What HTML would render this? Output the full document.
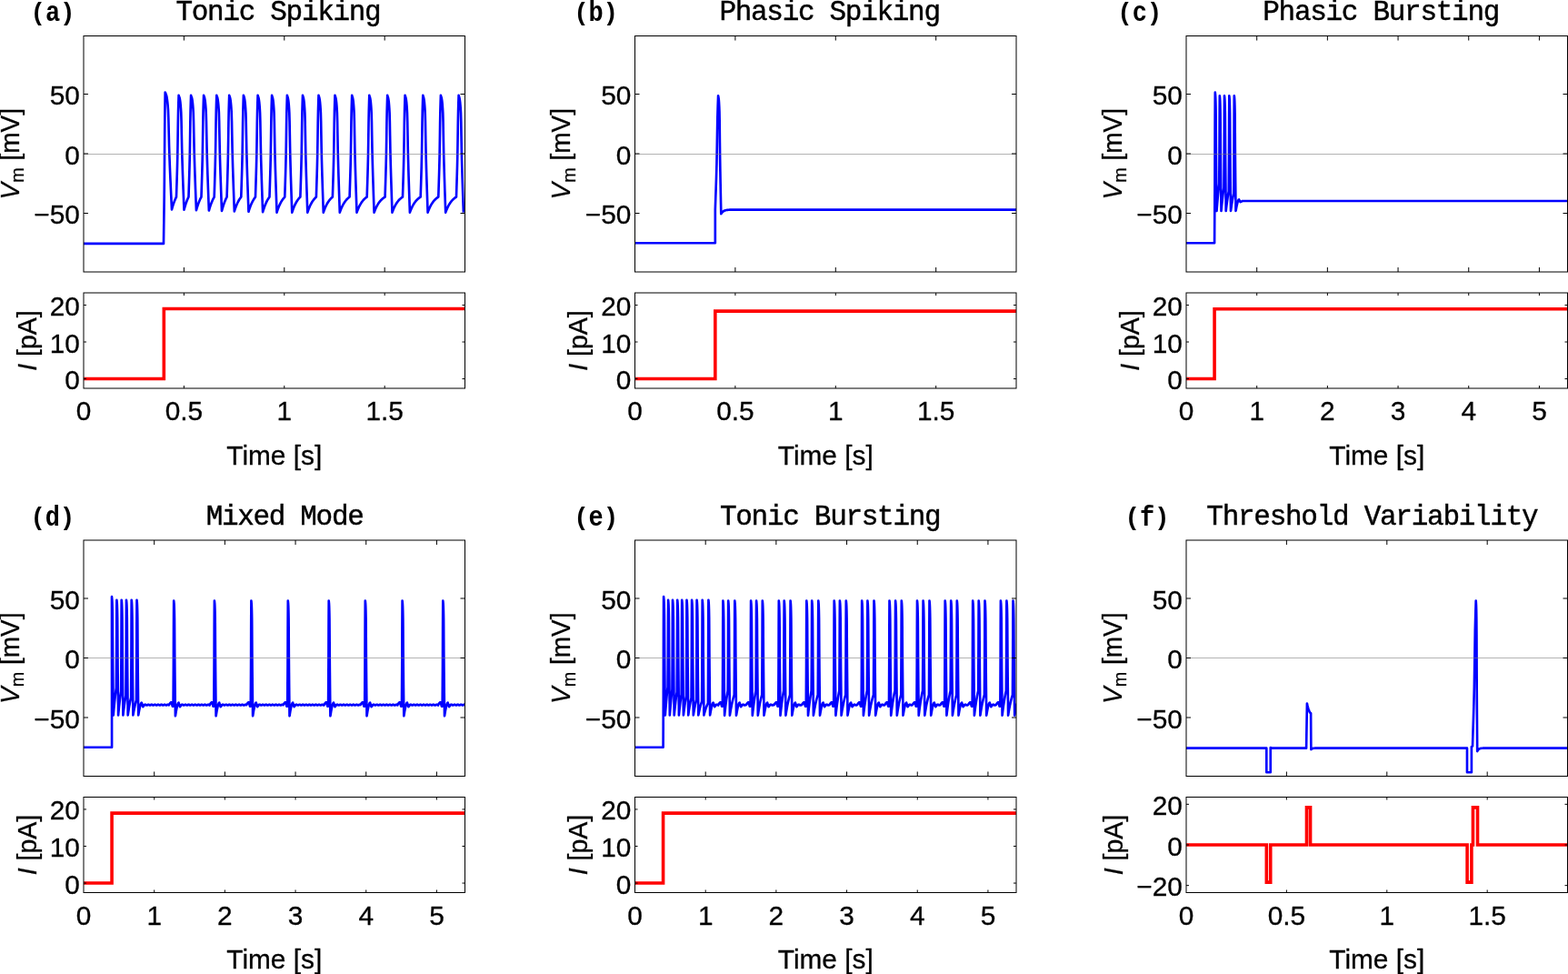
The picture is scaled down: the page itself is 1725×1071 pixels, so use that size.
<!DOCTYPE html>
<html><head><meta charset="utf-8"><title>Neuron firing patterns</title><style>html,body{margin:0;padding:0;background:#fff;overflow:hidden}svg{display:block}</style></head><body>
<svg width="1725" height="1071" viewBox="0 0 1725 1071"><rect width="1725" height="1071" fill="#fff"/><defs><clipPath id="cva"><rect x="92" y="39.5" width="419.5" height="259.5"/></clipPath><clipPath id="cia"><rect x="92" y="322" width="419.5" height="105"/></clipPath><clipPath id="cvb"><rect x="698.5" y="39.5" width="419.5" height="259.5"/></clipPath><clipPath id="cib"><rect x="698.5" y="322" width="419.5" height="105"/></clipPath><clipPath id="cvc"><rect x="1305" y="39.5" width="419.5" height="259.5"/></clipPath><clipPath id="cic"><rect x="1305" y="322" width="419.5" height="105"/></clipPath><clipPath id="cvd"><rect x="92" y="594" width="419.5" height="259.5"/></clipPath><clipPath id="cid"><rect x="92" y="876.5" width="419.5" height="105"/></clipPath><clipPath id="cve"><rect x="698.5" y="594" width="419.5" height="259.5"/></clipPath><clipPath id="cie"><rect x="698.5" y="876.5" width="419.5" height="105"/></clipPath><clipPath id="cvf"><rect x="1305" y="594" width="419.5" height="259.5"/></clipPath><clipPath id="cif"><rect x="1305" y="876.5" width="419.5" height="105"/></clipPath></defs>
<polyline clip-path="url(#cva)" fill="none" stroke="#0000ff" stroke-width="2.65" stroke-linejoin="round" stroke-linecap="butt" points="92,267.9 179.98,267.9 180.16,255 180.33,242.84 180.5,230.3 180.67,216.29 180.84,199.69 181.01,175.29 181.19,146.95 181.36,126.66 181.53,113.57 181.7,101.53 182.06,102.41 182.43,103.23 182.79,104.16 183.16,105.4 183.52,107.09 183.89,109.37 184.25,112.35 184.61,116.13 184.98,120.85 185.34,130.61 185.71,145.83 186.07,161.05 186.44,172.19 186.8,181.83 187.16,190.71 187.53,199.08 187.89,207.22 188.26,215.24 188.62,222.81 188.99,230.31 189.4,228.79 189.82,227.36 190.24,225.99 190.66,224.7 191.07,223.48 191.49,222.33 191.91,221.23 192.33,220.19 192.74,219.21 193.16,218.27 193.58,217.39 193.99,216.55 194.26,207.89 194.52,199.72 194.78,191.3 195.04,181.89 195.3,170.74 195.56,154.35 195.82,135.31 196.08,121.69 196.34,112.89 196.6,104.81 196.89,105.67 197.19,106.46 197.48,107.38 197.78,108.59 198.07,110.25 198.37,112.47 198.66,115.38 198.96,119.09 199.25,123.7 199.55,133.24 199.84,148.12 200.14,163 200.43,173.89 200.73,183.32 201.02,192 201.32,200.19 201.61,208.15 201.91,215.98 202.2,223.38 202.5,230.72 202.91,229.16 203.33,227.68 203.74,226.28 204.16,224.95 204.58,223.69 204.99,222.5 205.41,221.37 205.83,220.3 206.24,219.29 206.66,218.33 207.08,217.42 207.49,216.55 207.76,207.89 208.02,199.72 208.28,191.3 208.54,181.89 208.8,170.74 209.06,154.35 209.32,135.31 209.58,121.69 209.84,112.89 210.1,104.81 210.39,105.67 210.68,106.47 210.97,107.39 211.27,108.6 211.56,110.26 211.85,112.5 212.14,115.42 212.43,119.13 212.72,123.76 213.01,133.33 213.31,148.26 213.6,163.19 213.89,174.12 214.18,183.58 214.47,192.28 214.76,200.5 215.05,208.48 215.35,216.35 215.64,223.77 215.93,231.13 216.36,229.6 216.79,228.15 217.21,226.78 217.64,225.48 218.07,224.26 218.5,223.1 218.93,222 219.35,220.96 219.78,219.98 220.21,219.05 220.64,218.17 221.07,217.34 221.49,216.55 221.76,207.89 222.02,199.72 222.28,191.3 222.54,181.89 222.8,170.74 223.06,154.35 223.32,135.31 223.58,121.69 223.84,112.89 224.1,104.81 224.39,105.67 224.68,106.48 224.96,107.4 225.25,108.61 225.54,110.28 225.83,112.52 226.12,115.45 226.41,119.18 226.69,123.82 226.98,133.43 227.27,148.4 227.56,163.38 227.85,174.34 228.13,183.83 228.42,192.57 228.71,200.81 229,208.82 229.29,216.71 229.57,224.15 229.86,231.54 230.28,230.05 230.7,228.65 231.11,227.31 231.53,226.05 231.95,224.85 232.36,223.72 232.78,222.65 233.2,221.63 233.61,220.67 234.03,219.75 234.44,218.89 234.86,218.07 235.28,217.29 235.69,216.55 235.96,207.89 236.22,199.72 236.48,191.3 236.74,181.89 237,170.74 237.26,154.35 237.52,135.31 237.78,121.69 238.04,112.89 238.3,104.81 238.58,105.68 238.87,106.48 239.15,107.41 239.44,108.62 239.72,110.3 240.01,112.55 240.29,115.48 240.58,119.22 240.86,123.88 241.15,133.52 241.43,148.54 241.72,163.57 242,174.57 242.29,184.09 242.57,192.85 242.86,201.12 243.14,209.16 243.43,217.07 243.71,224.54 244,231.95 244.43,230.33 244.86,228.8 245.29,227.35 245.72,225.98 246.15,224.68 246.58,223.46 247.01,222.3 247.44,221.2 247.87,220.17 248.3,219.19 248.73,218.26 249.16,217.38 249.59,216.55 249.86,207.89 250.12,199.72 250.38,191.3 250.64,181.89 250.9,170.74 251.16,154.35 251.42,135.31 251.68,121.69 251.94,112.89 252.2,104.81 252.48,105.68 252.76,106.49 253.04,107.41 253.33,108.64 253.61,110.32 253.89,112.57 254.17,115.52 254.45,119.27 254.73,123.94 255.02,133.61 255.3,148.68 255.58,163.76 255.86,174.79 256.14,184.34 256.42,193.13 256.7,201.43 256.99,209.49 257.27,217.43 257.55,224.92 257.83,232.35 258.27,230.95 258.71,229.61 259.15,228.36 259.59,227.17 260.03,226.05 260.46,224.98 260.9,223.98 261.34,223.04 261.78,222.14 262.22,221.3 262.66,220.5 263.1,219.74 263.54,219.03 263.98,218.36 264.42,217.72 264.86,217.12 265.29,216.55 265.56,207.89 265.82,199.72 266.08,191.3 266.34,181.89 266.6,170.74 266.86,154.35 267.12,135.31 267.38,121.69 267.64,112.89 267.9,104.81 268.18,105.68 268.46,106.49 268.73,107.42 269.01,108.65 269.29,110.33 269.57,112.6 269.85,115.55 270.13,119.32 270.4,124 270.68,133.7 270.96,148.82 271.24,163.95 271.52,175.02 271.79,184.6 272.07,193.42 272.35,201.74 272.63,209.83 272.91,217.79 273.19,225.31 273.46,232.76 273.88,231.39 274.3,230.09 274.72,228.86 275.14,227.69 275.56,226.59 275.97,225.54 276.39,224.55 276.81,223.61 277.23,222.72 277.65,221.88 278.07,221.08 278.48,220.32 278.9,219.61 279.32,218.93 279.74,218.29 280.16,217.68 280.58,217.1 280.99,216.55 281.26,207.89 281.52,199.72 281.78,191.3 282.04,181.89 282.3,170.74 282.56,154.35 282.82,135.31 283.08,121.69 283.34,112.89 283.6,104.81 283.87,105.68 284.15,106.5 284.42,107.43 284.7,108.66 284.97,110.35 285.25,112.62 285.52,115.59 285.8,119.36 286.07,124.06 286.35,133.8 286.62,148.97 286.9,164.14 287.17,175.24 287.45,184.85 287.72,193.7 288,202.05 288.27,210.16 288.55,218.15 288.82,225.69 289.1,233.17 289.53,231.7 289.97,230.3 290.4,228.98 290.84,227.73 291.27,226.55 291.71,225.44 292.14,224.39 292.58,223.39 293.01,222.45 293.45,221.56 293.88,220.72 294.32,219.92 294.75,219.17 295.19,218.46 295.62,217.79 296.06,217.15 296.49,216.55 296.76,207.89 297.02,199.72 297.28,191.3 297.54,181.89 297.8,170.74 298.06,154.35 298.32,135.31 298.58,121.69 298.84,112.89 299.1,104.81 299.37,105.69 299.64,106.5 299.91,107.44 300.19,108.67 300.46,110.37 300.73,112.65 301,115.62 301.27,119.41 301.54,124.13 301.82,133.89 302.09,149.11 302.36,164.33 302.63,175.47 302.9,185.11 303.17,193.98 303.45,202.36 303.72,210.5 303.99,218.51 304.26,226.08 304.53,233.58 304.97,232.2 305.41,230.89 305.85,229.66 306.28,228.49 306.72,227.38 307.16,226.34 307.6,225.36 308.04,224.43 308.47,223.55 308.91,222.72 309.35,221.93 309.79,221.19 310.23,220.49 310.67,219.83 311.1,219.2 311.54,218.61 311.98,218.05 312.42,217.52 312.86,217.02 313.29,216.55 313.56,207.89 313.82,199.72 314.08,191.3 314.34,181.89 314.6,170.74 314.86,154.35 315.12,135.31 315.38,121.69 315.64,112.89 315.9,104.81 316.17,105.69 316.44,106.5 316.7,107.44 316.97,108.67 317.24,110.37 317.51,112.65 317.78,115.62 318.05,119.41 318.31,124.13 318.58,133.89 318.85,149.11 319.12,164.33 319.39,175.47 319.66,185.11 319.92,193.98 320.19,202.36 320.46,210.5 320.73,218.51 321,226.08 321.27,233.58 321.7,232.24 322.13,230.97 322.57,229.77 323,228.63 323.44,227.56 323.87,226.54 324.31,225.59 324.74,224.68 325.18,223.82 325.61,223.01 326.05,222.25 326.48,221.52 326.92,220.84 327.35,220.19 327.79,219.58 328.22,219 328.66,218.46 329.09,217.94 329.53,217.45 329.96,216.99 330.39,216.55 330.66,207.89 330.92,199.72 331.18,191.3 331.44,181.89 331.7,170.74 331.96,154.35 332.22,135.31 332.48,121.69 332.74,112.89 333,104.81 333.26,105.69 333.53,106.5 333.79,107.44 334.06,108.67 334.32,110.37 334.59,112.65 334.85,115.62 335.12,119.41 335.38,124.13 335.65,133.89 335.91,149.11 336.18,164.33 336.44,175.47 336.71,185.11 336.97,193.98 337.24,202.36 337.5,210.5 337.77,218.51 338.03,226.08 338.3,233.58 338.74,232.27 339.17,231.03 339.61,229.85 340.04,228.74 340.48,227.69 340.92,226.7 341.35,225.77 341.79,224.88 342.22,224.04 342.66,223.25 343.1,222.51 343.53,221.8 343.97,221.13 344.41,220.5 344.84,219.91 345.28,219.34 345.71,218.81 346.15,218.31 346.59,217.83 347.02,217.38 347.46,216.95 347.89,216.55 348.16,207.89 348.42,199.72 348.68,191.3 348.94,181.89 349.2,170.74 349.46,154.35 349.72,135.31 349.98,121.69 350.24,112.89 350.5,104.81 350.76,105.69 351.03,106.5 351.29,107.44 351.56,108.67 351.82,110.37 352.09,112.65 352.35,115.62 352.62,119.41 352.88,124.13 353.15,133.89 353.41,149.11 353.68,164.33 353.94,175.47 354.21,185.11 354.47,193.98 354.74,202.36 355,210.5 355.27,218.51 355.53,226.08 355.8,233.58 356.24,232.29 356.68,231.08 357.12,229.92 357.55,228.84 357.99,227.81 358.43,226.84 358.87,225.92 359.31,225.05 359.75,224.24 360.19,223.46 360.63,222.73 361.07,222.04 361.51,221.39 361.94,220.77 362.38,220.19 362.82,219.64 363.26,219.12 363.7,218.63 364.14,218.17 364.58,217.73 365.02,217.31 365.46,216.92 365.89,216.55 366.16,207.89 366.42,199.72 366.68,191.3 366.94,181.89 367.2,170.74 367.46,154.35 367.72,135.31 367.98,121.69 368.24,112.89 368.5,104.81 368.76,105.69 369.03,106.5 369.29,107.44 369.56,108.67 369.82,110.37 370.09,112.65 370.35,115.62 370.62,119.41 370.88,124.13 371.15,133.89 371.41,149.11 371.68,164.33 371.94,175.47 372.21,185.11 372.47,193.98 372.74,202.36 373,210.5 373.27,218.51 373.53,226.08 373.8,233.58 374.23,232.35 374.66,231.19 375.09,230.09 375.53,229.05 375.96,228.07 376.39,227.14 376.82,226.26 377.25,225.43 377.69,224.64 378.12,223.9 378.55,223.19 378.98,222.53 379.41,221.9 379.84,221.3 380.28,220.74 380.71,220.21 381.14,219.71 381.57,219.23 382,218.78 382.44,218.36 382.87,217.95 383.3,217.57 383.73,217.21 384.16,216.87 384.59,216.55 384.86,207.89 385.12,199.72 385.38,191.3 385.64,181.89 385.9,170.74 386.16,154.35 386.42,135.31 386.68,121.69 386.94,112.89 387.2,104.81 387.46,105.69 387.73,106.5 387.99,107.44 388.26,108.67 388.52,110.37 388.79,112.65 389.05,115.62 389.32,119.41 389.58,124.13 389.85,133.89 390.11,149.11 390.38,164.33 390.64,175.47 390.91,185.11 391.17,193.98 391.44,202.36 391.7,210.5 391.97,218.51 392.23,226.08 392.5,233.58 392.93,232.38 393.36,231.24 393.79,230.16 394.22,229.14 394.65,228.17 395.08,227.26 395.51,226.39 395.94,225.58 396.37,224.81 396.81,224.07 397.24,223.38 397.67,222.73 398.1,222.11 398.53,221.53 398.96,220.97 399.39,220.45 399.82,219.96 400.25,219.49 400.68,219.05 401.11,218.63 401.54,218.23 401.97,217.86 402.4,217.5 402.83,217.17 403.26,216.85 403.69,216.55 403.96,207.89 404.22,199.72 404.48,191.3 404.74,181.89 405,170.74 405.26,154.35 405.52,135.31 405.78,121.69 406.04,112.89 406.3,104.81 406.56,105.69 406.83,106.5 407.09,107.44 407.36,108.67 407.62,110.37 407.89,112.65 408.15,115.62 408.42,119.41 408.68,124.13 408.95,133.89 409.21,149.11 409.48,164.33 409.74,175.47 410.01,185.11 410.27,193.98 410.54,202.36 410.8,210.5 411.07,218.51 411.33,226.08 411.6,233.58 412.03,232.42 412.46,231.32 412.88,230.27 413.31,229.29 413.74,228.35 414.17,227.47 414.6,226.63 415.03,225.84 415.45,225.1 415.88,224.39 416.31,223.72 416.74,223.09 417.17,222.49 417.6,221.92 418.03,221.38 418.45,220.88 418.88,220.4 419.31,219.94 419.74,219.51 420.17,219.11 420.6,218.72 421.02,218.36 421.45,218.01 421.88,217.69 422.31,217.38 422.74,217.09 423.17,216.81 423.59,216.55 423.86,207.89 424.12,199.72 424.38,191.3 424.64,181.89 424.9,170.74 425.16,154.35 425.42,135.31 425.68,121.69 425.94,112.89 426.2,104.81 426.46,105.69 426.73,106.5 426.99,107.44 427.26,108.67 427.52,110.37 427.79,112.65 428.05,115.62 428.32,119.41 428.58,124.13 428.85,133.89 429.11,149.11 429.38,164.33 429.64,175.47 429.91,185.11 430.17,193.98 430.44,202.36 430.7,210.5 430.97,218.51 431.23,226.08 431.5,233.58 431.92,232.4 432.35,231.29 432.78,230.23 433.2,229.23 433.63,228.29 434.05,227.39 434.48,226.54 434.91,225.74 435.33,224.98 435.76,224.26 436.18,223.58 436.61,222.94 437.03,222.33 437.46,221.76 437.89,221.21 438.31,220.69 438.74,220.21 439.16,219.74 439.59,219.31 440.01,218.89 440.44,218.5 440.87,218.13 441.29,217.78 441.72,217.45 442.14,217.13 442.57,216.83 442.99,216.55 443.26,207.89 443.52,199.72 443.78,191.3 444.04,181.89 444.3,170.74 444.56,154.35 444.82,135.31 445.08,121.69 445.34,112.89 445.6,104.81 445.86,105.69 446.13,106.5 446.39,107.44 446.66,108.67 446.92,110.37 447.19,112.65 447.45,115.62 447.72,119.41 447.98,124.13 448.25,133.89 448.51,149.11 448.78,164.33 449.04,175.47 449.31,185.11 449.57,193.98 449.84,202.36 450.1,210.5 450.37,218.51 450.63,226.08 450.9,233.58 451.34,232.39 451.77,231.26 452.21,230.19 452.65,229.18 453.08,228.23 453.52,227.32 453.96,226.47 454.39,225.67 454.83,224.91 455.27,224.19 455.7,223.51 456.14,222.87 456.58,222.26 457.02,221.68 457.45,221.14 457.89,220.63 458.33,220.15 458.76,219.69 459.2,219.26 459.64,218.85 460.07,218.46 460.51,218.1 460.95,217.75 461.38,217.43 461.82,217.12 462.26,216.83 462.69,216.55 462.96,207.89 463.22,199.72 463.48,191.3 463.74,181.89 464,170.74 464.26,154.35 464.52,135.31 464.78,121.69 465.04,112.89 465.3,104.81 465.56,105.69 465.83,106.5 466.09,107.44 466.36,108.67 466.62,110.37 466.89,112.65 467.15,115.62 467.42,119.41 467.68,124.13 467.95,133.89 468.21,149.11 468.48,164.33 468.74,175.47 469.01,185.11 469.27,193.98 469.54,202.36 469.8,210.5 470.07,218.51 470.33,226.08 470.6,233.58 471.03,232.39 471.47,231.27 471.9,230.2 472.33,229.2 472.76,228.25 473.2,227.35 473.63,226.5 474.06,225.69 474.5,224.93 474.93,224.21 475.36,223.53 475.8,222.89 476.23,222.28 476.66,221.71 477.1,221.17 477.53,220.65 477.96,220.17 478.4,219.71 478.83,219.27 479.26,218.86 479.7,218.47 480.13,218.11 480.56,217.76 481,217.43 481.43,217.12 481.86,216.83 482.29,216.55 482.56,207.89 482.82,199.72 483.08,191.3 483.34,181.89 483.6,170.74 483.86,154.35 484.12,135.31 484.38,121.69 484.64,112.89 484.9,104.81 485.16,105.69 485.43,106.5 485.69,107.44 485.96,108.67 486.22,110.37 486.49,112.65 486.75,115.62 487.02,119.41 487.28,124.13 487.55,133.89 487.81,149.11 488.08,164.33 488.34,175.47 488.61,185.11 488.87,193.98 489.14,202.36 489.4,210.5 489.67,218.51 489.93,226.08 490.2,233.58 490.64,232.39 491.07,231.26 491.51,230.19 491.95,229.18 492.38,228.23 492.82,227.32 493.26,226.47 493.69,225.67 494.13,224.91 494.57,224.19 495,223.51 495.44,222.87 495.88,222.26 496.32,221.68 496.75,221.14 497.19,220.63 497.63,220.15 498.06,219.69 498.5,219.26 498.94,218.85 499.37,218.46 499.81,218.1 500.25,217.75 500.68,217.43 501.12,217.12 501.56,216.83 501.99,216.55 502.26,207.89 502.52,199.72 502.78,191.3 503.04,181.89 503.3,170.74 503.56,154.35 503.82,135.31 504.08,121.69 504.34,112.89 504.6,104.81 504.86,105.69 505.13,106.5 505.39,107.44 505.66,108.67 505.92,110.37 506.19,112.65 506.45,115.62 506.72,119.41 506.98,124.13 507.25,133.89 507.51,149.11 507.78,164.33 508.04,175.47 508.31,185.11 508.57,193.98 508.84,202.36 509.1,210.5 509.37,218.51 509.63,226.08 509.9,233.58"/>
<polyline clip-path="url(#cvb)" fill="none" stroke="#0000ff" stroke-width="2.65" stroke-linejoin="round" stroke-linecap="butt" points="698.5,267.25 786.82,267.25 786.82,230.57 787.23,218.55 787.64,207.07 788.05,194.5 788.46,179.22 788.87,155.43 789.28,130.69 789.69,116.65 790.1,105.33 790.33,106.57 790.56,107.83 790.79,109.66 791.01,112.51 791.24,116.73 791.47,122.65 791.7,134.65 791.93,156.89 792.16,175.1 792.39,188.91 792.62,201.3 792.84,213.05 793.07,224.36 793.3,235.15 793.3,235.16 793.74,234.45 794.18,233.85 794.63,233.34 795.07,232.91 795.51,232.55 795.95,232.24 796.39,231.98 796.83,231.76 797.28,231.57 797.72,231.41 798.16,231.28 798.6,231.16 799.04,231.07 799.48,230.99 799.93,230.92 800.37,230.86 800.81,230.81 801.25,230.77 801.69,230.73 802.13,230.7 802.57,230.68 803.02,230.66 803.46,230.64 803.9,230.62 804.34,230.61 804.78,230.6 805.22,230.59 805.67,230.58 806.11,230.58 806.55,230.57 1129.04,230.57"/>
<polyline clip-path="url(#cvc)" fill="none" stroke="#0000ff" stroke-width="2.65" stroke-linejoin="round" stroke-linecap="butt" points="1305,267.25 1336.07,267.25 1336.15,254.41 1336.22,242.3 1336.29,229.83 1336.36,215.88 1336.44,199.36 1336.51,175.07 1336.58,146.86 1336.65,126.68 1336.73,113.64 1336.8,101.67 1336.89,102.55 1336.97,103.38 1337.06,104.32 1337.14,105.57 1337.23,107.29 1337.31,109.59 1337.4,112.6 1337.48,116.43 1337.57,121.2 1337.65,131.07 1337.74,146.46 1337.83,161.85 1337.91,173.11 1338,182.86 1338.08,191.84 1338.17,200.31 1338.25,208.54 1338.34,216.64 1338.42,224.29 1338.51,231.88 1338.66,229.88 1338.81,227.93 1338.97,226.02 1339.12,224.16 1339.27,222.35 1339.42,220.58 1339.58,218.85 1339.73,217.16 1339.88,215.52 1340.04,213.92 1340.19,212.35 1340.34,210.82 1340.49,209.33 1340.65,207.88 1340.8,206.46 1340.95,205.07 1341.1,203.72 1341.26,202.41 1341.31,194.88 1341.36,187.78 1341.42,180.47 1341.47,172.29 1341.53,162.61 1341.58,148.37 1341.64,131.83 1341.69,120 1341.75,112.35 1341.8,105.33 1341.89,106.2 1341.97,107 1342.06,107.92 1342.14,109.13 1342.23,110.8 1342.31,113.04 1342.4,115.96 1342.48,119.68 1342.57,124.32 1342.65,133.91 1342.74,148.86 1342.83,163.82 1342.91,174.77 1343,184.25 1343.08,192.97 1343.17,201.19 1343.25,209.2 1343.34,217.07 1343.42,224.51 1343.51,231.88 1343.66,230.21 1343.82,228.59 1343.97,227 1344.13,225.45 1344.28,223.94 1344.44,222.47 1344.59,221.04 1344.75,219.64 1344.91,218.27 1345.06,216.94 1345.22,215.64 1345.37,214.37 1345.53,213.14 1345.68,211.93 1345.84,210.76 1345.99,209.61 1346.15,208.49 1346.3,207.4 1346.46,206.34 1346.51,198.5 1346.56,191.12 1346.62,183.51 1346.67,175 1346.73,164.92 1346.78,150.11 1346.84,132.9 1346.89,120.59 1346.95,112.64 1347,105.33 1347.09,106.2 1347.17,107 1347.26,107.92 1347.34,109.13 1347.43,110.8 1347.51,113.04 1347.6,115.96 1347.68,119.68 1347.77,124.32 1347.85,133.91 1347.94,148.86 1348.03,163.82 1348.11,174.77 1348.2,184.25 1348.28,192.97 1348.37,201.19 1348.45,209.2 1348.54,217.07 1348.62,224.51 1348.71,231.88 1348.86,230.53 1349.01,229.21 1349.17,227.93 1349.32,226.67 1349.47,225.45 1349.62,224.25 1349.78,223.09 1349.93,221.95 1350.08,220.84 1350.23,219.75 1350.38,218.7 1350.54,217.67 1350.69,216.66 1350.84,215.68 1350.99,214.72 1351.15,213.78 1351.3,212.87 1351.45,211.98 1351.6,211.11 1351.76,210.26 1351.81,202.13 1351.86,194.45 1351.92,186.55 1351.97,177.71 1352.03,167.24 1352.08,151.85 1352.14,133.98 1352.19,121.18 1352.25,112.92 1352.3,105.33 1352.39,106.2 1352.47,107 1352.56,107.92 1352.64,109.13 1352.73,110.8 1352.81,113.04 1352.9,115.96 1352.98,119.68 1353.07,124.32 1353.15,133.91 1353.24,148.86 1353.33,163.82 1353.41,174.77 1353.5,184.25 1353.58,192.97 1353.67,201.19 1353.75,209.2 1353.84,217.07 1353.92,224.51 1354.01,231.88 1354.16,230.73 1354.32,229.61 1354.47,228.52 1354.63,227.46 1354.78,226.42 1354.94,225.41 1355.09,224.42 1355.25,223.46 1355.4,222.52 1355.56,221.6 1355.71,220.7 1355.86,219.83 1356.02,218.98 1356.17,218.15 1356.33,217.34 1356.48,216.55 1356.64,215.78 1356.79,215.03 1356.95,214.3 1357.1,213.58 1357.26,212.88 1357.31,204.54 1357.36,196.68 1357.42,188.58 1357.47,179.52 1357.53,168.79 1357.58,153.01 1357.64,134.69 1357.69,121.58 1357.75,113.11 1357.8,105.33 1357.89,106.2 1357.97,107 1358.06,107.92 1358.14,109.13 1358.23,110.8 1358.31,113.04 1358.4,115.96 1358.48,119.68 1358.57,124.32 1358.65,133.91 1358.74,148.86 1358.83,163.82 1358.91,174.77 1359,184.25 1359.08,192.97 1359.17,201.19 1359.25,209.2 1359.34,217.07 1359.42,224.51 1359.51,231.88 1359.95,229.46 1360.38,227.24 1360.82,225.23 1361.26,223.45 1361.69,221.92 1362.13,220.67 1362.57,219.76 1363,219.3 1363.39,220.02 1363.78,220.75 1364.17,221.47 1364.56,222.19 1365.14,221.89 1365.72,221.6 1366.31,221.3 1366.89,221.01 1724.5,221.01"/>
<polyline clip-path="url(#cvd)" fill="none" stroke="#0000ff" stroke-width="2.65" stroke-linejoin="round" stroke-linecap="butt" points="92,821.75 123.07,821.75 123.07,808.91 123.06,796.8 123.05,784.33 123.04,770.38 123.04,753.86 123.03,729.57 123.02,701.36 123.01,681.18 123.01,668.14 123,656.17 123.09,657.05 123.17,657.88 123.26,658.82 123.34,660.07 123.43,661.79 123.51,664.09 123.6,667.1 123.68,670.93 123.77,675.7 123.85,685.57 123.94,700.96 124.03,716.35 124.11,727.61 124.2,737.36 124.28,746.34 124.37,754.81 124.45,763.04 124.54,771.14 124.62,778.79 124.71,786.38 124.86,784.59 125.01,782.84 125.16,781.13 125.31,779.47 125.46,777.84 125.61,776.25 125.76,774.7 125.91,773.19 126.06,771.71 126.21,770.27 126.36,768.87 126.51,767.49 126.66,766.15 126.81,764.84 126.96,763.56 127.11,762.32 127.26,761.1 127.41,759.91 127.56,758.75 127.71,757.62 127.86,756.51 127.91,749.01 127.96,741.94 128.02,734.66 128.07,726.52 128.13,716.87 128.18,702.69 128.24,686.22 128.29,674.44 128.35,666.83 128.4,659.83 128.49,660.7 128.57,661.5 128.66,662.42 128.74,663.63 128.83,665.3 128.91,667.54 129,670.46 129.08,674.18 129.17,678.82 129.25,688.41 129.34,703.36 129.43,718.32 129.51,729.27 129.6,738.75 129.68,747.47 129.77,755.69 129.85,763.7 129.94,771.57 130.02,779.01 130.11,786.38 130.26,784.74 130.41,783.15 130.57,781.59 130.72,780.07 130.87,778.58 131.02,777.13 131.18,775.72 131.33,774.34 131.48,773 131.63,771.68 131.78,770.4 131.94,769.15 132.09,767.93 132.24,766.74 132.39,765.58 132.55,764.45 132.7,763.34 132.85,762.26 133,761.21 133.16,760.18 133.21,752.4 133.26,745.06 133.32,737.5 133.37,729.05 133.43,719.04 133.48,704.32 133.54,687.23 133.59,674.99 133.65,667.09 133.7,659.83 133.79,660.7 133.87,661.5 133.96,662.42 134.04,663.63 134.13,665.3 134.21,667.54 134.3,670.46 134.38,674.18 134.47,678.82 134.55,688.41 134.64,703.36 134.73,718.32 134.81,729.27 134.9,738.75 134.98,747.47 135.07,755.69 135.15,763.7 135.24,771.57 135.32,779.01 135.41,786.38 135.56,785.03 135.71,783.71 135.87,782.43 136.02,781.17 136.17,779.95 136.32,778.75 136.48,777.59 136.63,776.45 136.78,775.34 136.93,774.25 137.08,773.2 137.24,772.17 137.39,771.16 137.54,770.18 137.69,769.22 137.85,768.28 138,767.37 138.15,766.48 138.3,765.61 138.46,764.76 138.51,756.63 138.56,748.95 138.62,741.05 138.67,732.21 138.73,721.74 138.78,706.35 138.84,688.48 138.89,675.68 138.95,667.42 139,659.83 139.09,660.7 139.17,661.5 139.26,662.42 139.34,663.63 139.43,665.3 139.51,667.54 139.6,670.46 139.68,674.18 139.77,678.82 139.85,688.41 139.94,703.36 140.03,718.32 140.11,729.27 140.2,738.75 140.28,747.47 140.37,755.69 140.45,763.7 140.54,771.57 140.62,779.01 140.71,786.38 140.86,785.29 141.01,784.24 141.16,783.2 141.31,782.19 141.46,781.21 141.61,780.25 141.76,779.31 141.91,778.39 142.06,777.49 142.21,776.62 142.36,775.77 142.51,774.94 142.66,774.12 142.81,773.33 142.96,772.56 143.11,771.8 143.26,771.06 143.41,770.34 143.56,769.64 143.71,768.95 143.86,768.28 144.01,767.63 144.16,766.99 144.21,758.68 144.26,750.85 144.32,742.77 144.37,733.75 144.43,723.06 144.48,707.34 144.54,689.08 144.59,676.02 144.65,667.58 144.7,659.83 144.79,660.7 144.87,661.5 144.96,662.42 145.04,663.63 145.13,665.3 145.21,667.54 145.3,670.46 145.38,674.18 145.47,678.82 145.55,688.41 145.64,703.36 145.73,718.32 145.81,729.27 145.9,738.75 145.98,747.47 146.07,755.69 146.15,763.7 146.24,771.57 146.32,779.01 146.41,786.38 146.56,785.46 146.72,784.56 146.87,783.68 147.03,782.82 147.18,781.99 147.33,781.17 147.49,780.38 147.64,779.6 147.8,778.84 147.95,778.11 148.11,777.39 148.26,776.68 148.41,776 148.57,775.33 148.72,774.68 148.88,774.04 149.03,773.42 149.19,772.82 149.34,772.23 149.49,771.65 149.65,771.09 149.8,770.54 149.96,770 150.01,761.46 150.06,753.4 150.12,745.1 150.17,735.83 150.23,724.83 150.28,708.67 150.34,689.91 150.39,676.47 150.45,667.8 150.5,659.83 150.59,660.7 150.67,661.5 150.76,662.42 150.84,663.63 150.93,665.3 151.01,667.54 151.1,670.46 151.18,674.18 151.27,678.82 151.35,688.41 151.44,703.36 151.53,718.32 151.61,729.27 151.7,738.75 151.78,747.47 151.87,755.69 151.95,763.7 152.04,771.57 152.12,779.01 152.21,786.38 152.66,783.73 153.1,781.31 153.55,779.11 154,777.16 154.44,775.49 154.89,774.12 155.34,773.12 155.78,772.62 156.15,773.77 156.52,774.92 156.89,776.06 157.26,777.21 157.65,776.69 158.04,776.16 158.42,775.64 158.81,775.11 159.12,774.9 159.43,774.74 159.74,774.7 160.04,774.77 160.35,774.94 160.66,775.16 160.97,775.37 161.28,775.5 161.58,775.53 161.89,775.43 162.2,775.25 162.51,775.02 162.82,774.83 163.12,774.71 163.43,774.71 163.74,774.83 164.05,775.02 164.36,775.25 164.66,775.43 164.97,775.53 165.28,775.5 165.59,775.37 165.9,775.16 166.2,774.94 166.51,774.77 166.82,774.7 167.13,774.74 167.44,774.9 167.74,775.11 168.05,775.33 168.36,775.48 168.67,775.53 168.98,775.46 169.28,775.29 169.59,775.07 169.9,774.86 170.21,774.73 170.52,774.7 170.82,774.79 171.13,774.98 171.44,775.2 171.75,775.4 172.06,775.52 172.36,775.52 172.67,775.4 172.98,775.21 173.29,774.98 173.6,774.8 173.9,774.7 174.21,774.72 174.52,774.86 174.83,775.07 175.14,775.29 175.44,775.46 175.75,775.53 176.06,775.49 176.37,775.33 176.68,775.12 176.99,774.9 177.29,774.74 177.6,774.7 177.91,774.77 178.22,774.94 178.53,775.16 178.83,775.37 179.14,775.5 179.45,775.53 179.76,775.44 180.07,775.25 180.37,775.03 180.68,774.83 180.99,774.71 181.3,774.71 181.61,774.82 181.91,775.02 182.22,775.25 182.53,775.43 182.84,775.53 183.15,775.5 183.45,775.37 183.76,775.16 184.07,774.94 184.38,774.77 184.69,774.7 184.99,774.74 185.3,774.9 185.61,775.11 185.92,775.33 185.92,775.11 186.46,774.22 187,773.42 187.55,772.78 188.09,772.37 188.64,772.23 189.02,773.67 189.41,775.11 189.8,776.55 190.58,776.55 190.64,767.56 190.7,759.09 190.76,750.35 190.83,740.59 190.89,729.02 190.95,712.01 191.01,692.27 191.08,678.13 191.14,669 191.2,660.62 191.29,661.48 191.37,662.29 191.46,663.21 191.54,664.42 191.63,666.09 191.71,668.33 191.8,671.26 191.88,674.98 191.97,679.62 192.05,689.23 192.14,704.2 192.23,719.17 192.31,730.13 192.4,739.61 192.48,748.34 192.57,756.58 192.65,764.59 192.74,772.47 192.82,779.92 192.91,787.3 193.36,784.47 193.8,781.88 194.25,779.54 194.7,777.46 195.14,775.68 195.59,774.22 196.04,773.15 196.48,772.62 196.85,773.77 197.22,774.92 197.59,776.06 197.96,777.21 198.35,776.69 198.74,776.16 199.12,775.64 199.51,775.11 199.82,774.9 200.13,774.74 200.44,774.7 200.74,774.77 201.05,774.94 201.36,775.16 201.67,775.37 201.98,775.5 202.28,775.53 202.59,775.43 202.9,775.25 203.21,775.02 203.52,774.83 203.82,774.71 204.13,774.71 204.44,774.82 204.75,775.02 205.06,775.25 205.36,775.43 205.67,775.53 205.98,775.5 206.29,775.37 206.6,775.16 206.9,774.94 207.21,774.77 207.52,774.7 207.83,774.74 208.14,774.9 208.44,775.11 208.75,775.33 209.06,775.48 209.37,775.53 209.68,775.46 209.98,775.29 210.29,775.07 210.6,774.86 210.91,774.73 211.22,774.7 211.52,774.79 211.83,774.98 212.14,775.2 212.45,775.4 212.76,775.52 213.06,775.52 213.37,775.4 213.68,775.21 213.99,774.98 214.29,774.8 214.6,774.7 214.91,774.72 215.22,774.86 215.53,775.07 215.83,775.29 216.14,775.46 216.45,775.53 216.76,775.49 217.07,775.33 217.37,775.12 217.68,774.9 217.99,774.75 218.3,774.7 218.61,774.76 218.91,774.93 219.22,775.16 219.53,775.36 219.84,775.5 220.15,775.53 220.45,775.44 220.76,775.25 221.07,775.03 221.38,774.83 221.69,774.71 221.99,774.71 222.3,774.82 222.61,775.02 222.92,775.24 223.23,775.43 223.53,775.53 223.84,775.51 224.15,775.37 224.46,775.16 224.77,774.94 225.07,774.77 225.38,774.7 225.69,774.74 226,774.89 226.31,775.11 226.61,775.33 226.92,775.48 227.23,775.53 227.54,775.46 227.85,775.3 228.15,775.07 228.46,774.87 228.77,774.73 229.08,774.7 229.39,774.79 229.69,774.97 230,775.2 230.31,775.4 230.62,775.52 230.62,775.11 231.16,774.22 231.71,773.42 232.25,772.78 232.79,772.37 233.34,772.23 233.72,773.67 234.11,775.11 234.5,776.55 235.28,776.55 235.34,767.56 235.4,759.09 235.46,750.35 235.53,740.59 235.59,729.02 235.65,712.01 235.71,692.27 235.78,678.13 235.84,669 235.9,660.62 235.99,661.48 236.07,662.29 236.16,663.21 236.24,664.42 236.33,666.09 236.41,668.33 236.5,671.26 236.58,674.98 236.67,679.62 236.75,689.23 236.84,704.2 236.93,719.17 237.01,730.13 237.1,739.61 237.18,748.34 237.27,756.58 237.35,764.59 237.44,772.47 237.52,779.92 237.61,787.3 238.06,784.47 238.5,781.88 238.95,779.54 239.4,777.46 239.84,775.68 240.29,774.22 240.74,773.15 241.18,772.62 241.55,773.77 241.92,774.92 242.29,776.06 242.66,777.21 243.05,776.69 243.44,776.16 243.82,775.64 244.21,775.11 244.52,774.9 244.83,774.74 245.14,774.7 245.45,774.77 245.76,774.94 246.07,775.16 246.38,775.37 246.69,775.51 247,775.53 247.3,775.43 247.61,775.24 247.92,775.01 248.23,774.82 248.54,774.71 248.85,774.71 249.16,774.84 249.47,775.04 249.78,775.26 250.09,775.44 250.4,775.53 250.71,775.5 251.02,775.35 251.33,775.14 251.63,774.92 251.94,774.76 252.25,774.69 252.56,774.76 252.87,774.92 253.18,775.14 253.49,775.35 253.8,775.5 254.11,775.53 254.42,775.44 254.73,775.26 255.04,775.04 255.35,774.84 255.65,774.71 255.96,774.71 256.27,774.82 256.58,775.01 256.89,775.24 257.2,775.43 257.51,775.53 257.82,775.51 258.13,775.37 258.44,775.16 258.75,774.94 259.06,774.77 259.37,774.7 259.68,774.74 259.98,774.9 260.29,775.11 260.6,775.33 260.91,775.49 261.22,775.53 261.53,775.46 261.84,775.29 262.15,775.06 262.46,774.86 262.77,774.72 263.08,774.7 263.39,774.8 263.7,774.99 264,775.21 264.31,775.41 264.62,775.52 264.93,775.51 265.24,775.39 265.55,775.19 265.86,774.97 266.17,774.78 266.48,774.7 266.79,774.73 267.1,774.88 267.41,775.09 267.72,775.31 268.02,775.47 268.33,775.53 268.64,775.47 268.95,775.31 269.26,775.09 269.57,774.88 269.88,774.73 270.19,774.7 270.5,774.78 270.81,774.97 271.12,775.19 271.12,775.11 271.66,774.22 272.2,773.42 272.75,772.78 273.29,772.37 273.84,772.23 274.22,773.67 274.61,775.11 275,776.55 275.78,776.55 275.84,767.56 275.9,759.09 275.96,750.35 276.03,740.59 276.09,729.02 276.15,712.01 276.21,692.27 276.28,678.13 276.34,669 276.4,660.62 276.49,661.48 276.57,662.29 276.66,663.21 276.74,664.42 276.83,666.09 276.91,668.33 277,671.26 277.08,674.98 277.17,679.62 277.25,689.23 277.34,704.2 277.43,719.17 277.51,730.13 277.6,739.61 277.68,748.34 277.77,756.58 277.85,764.59 277.94,772.47 278.02,779.92 278.11,787.3 278.56,784.47 279,781.88 279.45,779.54 279.9,777.46 280.34,775.68 280.79,774.22 281.24,773.15 281.68,772.62 282.05,773.77 282.42,774.92 282.79,776.06 283.16,777.21 283.55,776.69 283.94,776.16 284.32,775.64 284.71,775.11 285.02,774.9 285.33,774.74 285.64,774.7 285.94,774.77 286.25,774.94 286.56,775.16 286.87,775.37 287.18,775.5 287.49,775.53 287.79,775.43 288.1,775.25 288.41,775.02 288.72,774.83 289.03,774.71 289.33,774.71 289.64,774.83 289.95,775.02 290.26,775.25 290.57,775.43 290.87,775.53 291.18,775.5 291.49,775.37 291.8,775.16 292.11,774.94 292.41,774.77 292.72,774.7 293.03,774.74 293.34,774.9 293.65,775.11 293.96,775.33 294.26,775.48 294.57,775.53 294.88,775.46 295.19,775.29 295.5,775.07 295.8,774.86 296.11,774.72 296.42,774.7 296.73,774.8 297.04,774.98 297.34,775.21 297.65,775.4 297.96,775.52 298.27,775.52 298.58,775.4 298.89,775.2 299.19,774.98 299.5,774.79 299.81,774.7 300.12,774.73 300.43,774.86 300.73,775.07 301.04,775.29 301.35,775.46 301.66,775.53 301.97,775.48 302.27,775.33 302.58,775.11 302.89,774.9 303.2,774.74 303.51,774.7 303.81,774.77 304.12,774.94 304.43,775.16 304.74,775.37 305.05,775.5 305.36,775.53 305.66,775.43 305.97,775.25 306.28,775.02 306.59,774.82 306.9,774.71 307.2,774.71 307.51,774.83 307.82,775.03 308.13,775.25 308.44,775.44 308.74,775.53 309.05,775.5 309.36,775.37 309.67,775.16 309.98,774.94 310.28,774.77 310.59,774.7 310.9,774.74 311.21,774.9 311.52,775.12 311.52,775.11 312.06,774.22 312.61,773.42 313.15,772.78 313.69,772.37 314.24,772.23 314.62,773.67 315.01,775.11 315.4,776.55 316.18,776.55 316.24,767.56 316.3,759.09 316.36,750.35 316.43,740.59 316.49,729.02 316.55,712.01 316.61,692.27 316.68,678.13 316.74,669 316.8,660.62 316.89,661.48 316.97,662.29 317.06,663.21 317.14,664.42 317.23,666.09 317.31,668.33 317.4,671.26 317.48,674.98 317.57,679.62 317.65,689.23 317.74,704.2 317.83,719.17 317.91,730.13 318,739.61 318.08,748.34 318.17,756.58 318.25,764.59 318.34,772.47 318.42,779.92 318.51,787.3 318.96,784.47 319.4,781.88 319.85,779.54 320.3,777.46 320.74,775.68 321.19,774.22 321.64,773.15 322.08,772.62 322.45,773.77 322.82,774.92 323.19,776.06 323.56,777.21 323.95,776.69 324.34,776.16 324.72,775.64 325.11,775.11 325.42,774.9 325.73,774.74 326.04,774.7 326.35,774.77 326.66,774.94 326.97,775.17 327.28,775.38 327.59,775.51 327.9,775.53 328.21,775.42 328.52,775.23 328.83,775.01 329.14,774.81 329.45,774.71 329.76,774.72 330.07,774.84 330.38,775.05 330.69,775.27 331,775.45 331.31,775.53 331.62,775.49 331.93,775.34 332.24,775.13 332.55,774.91 332.86,774.75 333.17,774.7 333.48,774.76 333.79,774.93 334.1,775.15 334.41,775.36 334.72,775.5 335.03,775.53 335.34,775.43 335.65,775.25 335.96,775.02 336.27,774.82 336.58,774.71 336.89,774.71 337.2,774.83 337.51,775.03 337.82,775.26 338.13,775.44 338.44,775.53 338.75,775.5 339.06,775.35 339.37,775.14 339.68,774.92 339.99,774.76 340.3,774.69 340.61,774.76 340.92,774.92 341.23,775.14 341.54,775.35 341.85,775.5 342.16,775.53 342.47,775.44 342.78,775.26 343.09,775.03 343.4,774.83 343.71,774.71 344.02,774.71 344.33,774.82 344.64,775.02 344.95,775.25 345.26,775.43 345.57,775.53 345.88,775.5 346.19,775.36 346.5,775.15 346.81,774.93 347.12,774.76 347.43,774.7 347.74,774.75 348.05,774.91 348.36,775.13 348.67,775.34 348.98,775.49 349.29,775.53 349.6,775.45 349.91,775.27 350.22,775.05 350.53,774.84 350.84,774.72 351.15,774.71 351.46,774.81 351.77,775.01 352.08,775.23 352.39,775.42 352.7,775.53 353.01,775.51 353.32,775.38 353.63,775.17 353.94,774.94 354.25,774.77 354.56,774.7 354.87,774.74 355.18,774.9 355.49,775.11 355.8,775.33 356.11,775.49 356.42,775.53 356.42,775.11 356.96,774.22 357.5,773.42 358.05,772.78 358.59,772.37 359.14,772.23 359.52,773.67 359.91,775.11 360.3,776.55 361.08,776.55 361.14,767.56 361.2,759.09 361.26,750.35 361.33,740.59 361.39,729.02 361.45,712.01 361.51,692.27 361.58,678.13 361.64,669 361.7,660.62 361.79,661.48 361.87,662.29 361.96,663.21 362.04,664.42 362.13,666.09 362.21,668.33 362.3,671.26 362.38,674.98 362.47,679.62 362.55,689.23 362.64,704.2 362.73,719.17 362.81,730.13 362.9,739.61 362.98,748.34 363.07,756.58 363.15,764.59 363.24,772.47 363.32,779.92 363.41,787.3 363.86,784.47 364.3,781.88 364.75,779.54 365.2,777.46 365.64,775.68 366.09,774.22 366.54,773.15 366.98,772.62 367.35,773.77 367.72,774.92 368.09,776.06 368.46,777.21 368.85,776.69 369.24,776.16 369.62,775.64 370.01,775.11 370.32,774.9 370.63,774.74 370.94,774.7 371.25,774.77 371.55,774.94 371.86,775.16 372.17,775.37 372.48,775.5 372.79,775.53 373.09,775.43 373.4,775.25 373.71,775.02 374.02,774.82 374.33,774.71 374.64,774.71 374.94,774.83 375.25,775.03 375.56,775.25 375.87,775.43 376.18,775.53 376.48,775.5 376.79,775.37 377.1,775.16 377.41,774.94 377.72,774.77 378.03,774.7 378.33,774.74 378.64,774.9 378.95,775.12 379.26,775.33 379.57,775.49 379.87,775.53 380.18,775.46 380.49,775.29 380.8,775.07 381.11,774.86 381.42,774.72 381.72,774.7 382.03,774.8 382.34,774.98 382.65,775.21 382.96,775.41 383.26,775.52 383.57,775.52 383.88,775.4 384.19,775.2 384.5,774.98 384.81,774.79 385.11,774.7 385.42,774.73 385.73,774.86 386.04,775.07 386.35,775.29 386.66,775.46 386.96,775.53 387.27,775.48 387.58,775.33 387.89,775.11 388.2,774.89 388.5,774.74 388.81,774.7 389.12,774.77 389.43,774.94 389.74,775.17 390.05,775.37 390.35,775.51 390.66,775.53 390.97,775.43 391.28,775.24 391.59,775.02 391.89,774.82 392.2,774.71 392.51,774.71 392.82,774.83 393.13,775.03 393.44,775.26 393.74,775.44 394.05,775.53 394.36,775.5 394.67,775.36 394.98,775.15 395.28,774.93 395.59,774.76 395.9,774.7 396.21,774.75 396.52,774.91 396.52,775.11 397.06,774.22 397.61,773.42 398.15,772.78 398.69,772.37 399.24,772.23 399.62,773.67 400.01,775.11 400.4,776.55 401.18,776.55 401.24,767.56 401.3,759.09 401.36,750.35 401.43,740.59 401.49,729.02 401.55,712.01 401.61,692.27 401.68,678.13 401.74,669 401.8,660.62 401.89,661.48 401.97,662.29 402.06,663.21 402.14,664.42 402.23,666.09 402.31,668.33 402.4,671.26 402.48,674.98 402.57,679.62 402.65,689.23 402.74,704.2 402.83,719.17 402.91,730.13 403,739.61 403.08,748.34 403.17,756.58 403.25,764.59 403.34,772.47 403.42,779.92 403.51,787.3 403.96,784.47 404.4,781.88 404.85,779.54 405.3,777.46 405.74,775.68 406.19,774.22 406.64,773.15 407.08,772.62 407.45,773.77 407.82,774.92 408.19,776.06 408.56,777.21 408.95,776.69 409.34,776.16 409.72,775.64 410.11,775.11 410.42,774.9 410.73,774.74 411.04,774.7 411.35,774.77 411.66,774.94 411.97,775.16 412.28,775.37 412.59,775.51 412.89,775.53 413.2,775.43 413.51,775.24 413.82,775.01 414.13,774.82 414.44,774.71 414.75,774.71 415.06,774.84 415.37,775.04 415.68,775.26 415.99,775.44 416.3,775.53 416.6,775.5 416.91,775.35 417.22,775.14 417.53,774.92 417.84,774.76 418.15,774.69 418.46,774.75 418.77,774.92 419.08,775.14 419.39,775.35 419.7,775.5 420.01,775.53 420.31,775.45 420.62,775.26 420.93,775.04 421.24,774.84 421.55,774.71 421.86,774.71 422.17,774.82 422.48,775.01 422.79,775.24 423.1,775.43 423.41,775.53 423.71,775.51 424.02,775.38 424.33,775.17 424.64,774.95 424.95,774.77 425.26,774.7 425.57,774.74 425.88,774.89 426.19,775.11 426.5,775.33 426.81,775.48 427.12,775.53 427.42,775.46 427.73,775.29 428.04,775.07 428.35,774.86 428.66,774.72 428.97,774.7 429.28,774.8 429.59,774.98 429.9,775.21 430.21,775.41 430.52,775.52 430.83,775.52 431.13,775.4 431.44,775.19 431.75,774.97 432.06,774.79 432.37,774.7 432.68,774.73 432.99,774.87 433.3,775.08 433.61,775.3 433.92,775.47 434.23,775.53 434.54,775.48 434.84,775.31 435.15,775.09 435.46,774.88 435.77,774.73 436.08,774.7 436.39,774.78 436.7,774.96 437.01,775.18 437.32,775.39 437.32,775.11 437.86,774.22 438.41,773.42 438.95,772.78 439.49,772.37 440.04,772.23 440.42,773.67 440.81,775.11 441.2,776.55 441.98,776.55 442.04,767.56 442.1,759.09 442.16,750.35 442.23,740.59 442.29,729.02 442.35,712.01 442.41,692.27 442.48,678.13 442.54,669 442.6,660.62 442.69,661.48 442.77,662.29 442.86,663.21 442.94,664.42 443.03,666.09 443.11,668.33 443.2,671.26 443.28,674.98 443.37,679.62 443.45,689.23 443.54,704.2 443.63,719.17 443.71,730.13 443.8,739.61 443.88,748.34 443.97,756.58 444.05,764.59 444.14,772.47 444.22,779.92 444.31,787.3 444.76,784.47 445.2,781.88 445.65,779.54 446.1,777.46 446.54,775.68 446.99,774.22 447.44,773.15 447.88,772.62 448.25,773.77 448.62,774.92 448.99,776.06 449.36,777.21 449.75,776.69 450.14,776.16 450.52,775.64 450.91,775.11 451.22,774.9 451.53,774.74 451.84,774.7 452.14,774.77 452.45,774.94 452.76,775.16 453.07,775.37 453.38,775.5 453.68,775.53 453.99,775.43 454.3,775.25 454.61,775.02 454.92,774.83 455.22,774.71 455.53,774.71 455.84,774.82 456.15,775.02 456.46,775.25 456.76,775.43 457.07,775.53 457.38,775.5 457.69,775.37 458,775.16 458.3,774.94 458.61,774.77 458.92,774.7 459.23,774.74 459.54,774.9 459.84,775.11 460.15,775.33 460.46,775.48 460.77,775.53 461.08,775.46 461.38,775.29 461.69,775.07 462,774.86 462.31,774.73 462.62,774.7 462.92,774.79 463.23,774.98 463.54,775.2 463.85,775.4 464.16,775.52 464.46,775.52 464.77,775.4 465.08,775.21 465.39,774.98 465.69,774.8 466,774.7 466.31,774.72 466.62,774.86 466.93,775.07 467.23,775.29 467.54,775.46 467.85,775.53 468.16,775.49 468.47,775.33 468.77,775.12 469.08,774.9 469.39,774.75 469.7,774.7 470.01,774.76 470.31,774.93 470.62,775.16 470.93,775.36 471.24,775.5 471.55,775.53 471.85,775.44 472.16,775.25 472.47,775.03 472.78,774.83 473.09,774.71 473.39,774.71 473.7,774.82 474.01,775.02 474.32,775.24 474.63,775.43 474.93,775.53 475.24,775.51 475.55,775.37 475.86,775.16 476.17,774.94 476.47,774.77 476.78,774.7 477.09,774.74 477.4,774.89 477.71,775.11 478.01,775.33 478.32,775.48 478.63,775.53 478.94,775.46 479.25,775.3 479.55,775.07 479.86,774.87 480.17,774.73 480.48,774.7 480.79,774.79 481.09,774.97 481.4,775.2 481.71,775.4 482.02,775.52 482.02,775.11 482.56,774.22 483.11,773.42 483.65,772.78 484.19,772.37 484.74,772.23 485.12,773.67 485.51,775.11 485.9,776.55 486.68,776.55 486.74,767.56 486.8,759.09 486.86,750.35 486.93,740.59 486.99,729.02 487.05,712.01 487.11,692.27 487.18,678.13 487.24,669 487.3,660.62 487.39,661.48 487.47,662.29 487.56,663.21 487.64,664.42 487.73,666.09 487.81,668.33 487.9,671.26 487.98,674.98 488.07,679.62 488.15,689.23 488.24,704.2 488.33,719.17 488.41,730.13 488.5,739.61 488.58,748.34 488.67,756.58 488.75,764.59 488.84,772.47 488.92,779.92 489.01,787.3 489.46,784.47 489.9,781.88 490.35,779.54 490.8,777.46 491.24,775.68 491.69,774.22 492.14,773.15 492.58,772.62 492.95,773.77 493.32,774.92 493.69,776.06 494.06,777.21 494.45,776.69 494.84,776.16 495.22,775.64 495.61,775.11 495.92,774.9 496.23,774.74 496.54,774.7 496.85,774.77 497.16,774.94 497.47,775.16 497.77,775.37 498.08,775.51 498.39,775.53 498.7,775.43 499.01,775.24 499.32,775.02 499.63,774.82 499.94,774.71 500.25,774.71 500.56,774.83 500.86,775.03 501.17,775.26 501.48,775.44 501.79,775.53 502.1,775.5 502.41,775.36 502.72,775.14 503.03,774.92 503.34,774.76 503.64,774.69 503.95,774.75 504.26,774.91 504.57,775.13 504.88,775.35 505.19,775.49 505.5,775.53 505.81,775.45 506.12,775.27 506.43,775.05 506.73,774.84 507.04,774.72 507.35,774.7 507.66,774.81 507.97,775 508.28,775.23 508.59,775.42 508.9,775.52 509.21,775.51 509.51,775.38 509.82,775.17 510.13,774.95 510.44,774.78 510.75,774.7 511.06,774.74 511.37,774.89 511.68,775.1 511.99,775.32 512.29,775.48 512.6,775.53 512.91,775.47 513.22,775.3 513.53,775.08 513.84,774.87 514.15,774.73 514.46,774.7 514.77,774.79 515.08,774.98 515.38,775.2"/>
<polyline clip-path="url(#cve)" fill="none" stroke="#0000ff" stroke-width="2.65" stroke-linejoin="round" stroke-linecap="butt" points="698.5,821.75 729.57,821.75 729.63,808.91 729.68,796.8 729.73,784.33 729.78,770.38 729.84,753.86 729.89,729.57 729.94,701.36 729.99,681.18 730.05,668.14 730.1,656.17 730.19,657.05 730.27,657.88 730.36,658.82 730.44,660.07 730.53,661.79 730.61,664.09 730.7,667.1 730.78,670.93 730.87,675.7 730.95,685.57 731.04,700.96 731.13,716.35 731.21,727.61 731.3,737.36 731.38,746.34 731.47,754.81 731.55,763.04 731.64,771.14 731.72,778.79 731.81,786.38 731.96,784.29 732.11,782.25 732.27,780.26 732.42,778.32 732.57,776.42 732.72,774.57 732.88,772.77 733.03,771.01 733.18,769.29 733.34,767.62 733.49,765.98 733.64,764.39 733.79,762.83 733.95,761.31 734.1,759.83 734.25,758.38 734.4,756.97 734.56,755.6 734.61,748.17 734.66,741.17 734.72,733.95 734.77,725.89 734.83,716.33 734.88,702.29 734.94,685.97 734.99,674.3 735.05,666.76 735.1,659.83 735.19,660.7 735.27,661.5 735.36,662.42 735.44,663.63 735.53,665.3 735.61,667.54 735.7,670.46 735.78,674.18 735.87,678.82 735.95,688.41 736.04,703.36 736.13,718.32 736.21,729.27 736.3,738.75 736.38,747.47 736.47,755.69 736.55,763.7 736.64,771.57 736.72,779.01 736.81,786.38 736.96,784.48 737.1,782.63 737.25,780.82 737.4,779.05 737.54,777.32 737.69,775.63 737.84,773.98 737.99,772.38 738.13,770.8 738.28,769.27 738.43,767.77 738.57,766.31 738.72,764.88 738.87,763.48 739.02,762.12 739.16,760.79 739.31,759.49 739.46,758.22 739.51,750.58 739.56,743.39 739.62,735.98 739.67,727.69 739.73,717.88 739.78,703.45 739.84,686.69 739.89,674.69 739.95,666.95 740,659.83 740.09,660.7 740.17,661.5 740.26,662.42 740.34,663.63 740.43,665.3 740.51,667.54 740.6,670.46 740.68,674.18 740.77,678.82 740.85,688.41 740.94,703.36 741.03,718.32 741.11,729.27 741.2,738.75 741.28,747.47 741.37,755.69 741.45,763.7 741.54,771.57 741.62,779.01 741.71,786.38 741.86,784.71 742.02,783.09 742.17,781.5 742.33,779.95 742.48,778.44 742.64,776.97 742.79,775.54 742.95,774.14 743.11,772.77 743.26,771.44 743.42,770.14 743.57,768.87 743.73,767.64 743.88,766.43 744.04,765.26 744.19,764.11 744.35,762.99 744.5,761.9 744.66,760.84 744.71,753 744.76,745.62 744.82,738.01 744.87,729.5 744.93,719.42 744.98,704.61 745.04,687.4 745.09,675.09 745.15,667.14 745.2,659.83 745.29,660.7 745.37,661.5 745.46,662.42 745.54,663.63 745.63,665.3 745.71,667.54 745.8,670.46 745.88,674.18 745.97,678.82 746.05,688.41 746.14,703.36 746.23,718.32 746.31,729.27 746.4,738.75 746.48,747.47 746.57,755.69 746.65,763.7 746.74,771.57 746.82,779.01 746.91,786.38 747.06,784.82 747.21,783.3 747.37,781.82 747.52,780.38 747.67,778.97 747.82,777.59 747.98,776.25 748.13,774.93 748.28,773.66 748.44,772.41 748.59,771.19 748.74,770 748.89,768.84 749.05,767.71 749.2,766.61 749.35,765.53 749.5,764.48 749.66,763.46 749.71,755.42 749.76,747.84 749.82,740.04 749.87,731.31 749.93,720.97 749.98,705.77 750.04,688.12 750.09,675.49 750.15,667.33 750.2,659.83 750.29,660.7 750.37,661.5 750.46,662.42 750.54,663.63 750.63,665.3 750.71,667.54 750.8,670.46 750.88,674.18 750.97,678.82 751.05,688.41 751.14,703.36 751.23,718.32 751.31,729.27 751.4,738.75 751.48,747.47 751.57,755.69 751.65,763.7 751.74,771.57 751.82,779.01 751.91,786.38 752.06,785.07 752.21,783.79 752.37,782.55 752.52,781.33 752.67,780.14 752.82,778.98 752.98,777.85 753.13,776.75 753.28,775.67 753.43,774.62 753.58,773.6 753.74,772.6 753.89,771.62 754.04,770.67 754.19,769.74 754.35,768.83 754.5,767.95 754.65,767.08 754.8,766.24 754.96,765.42 755.01,757.23 755.06,749.51 755.12,741.56 755.17,732.66 755.23,722.13 755.28,706.64 755.34,688.66 755.39,675.78 755.45,667.47 755.5,659.83 755.59,660.7 755.67,661.5 755.76,662.42 755.84,663.63 755.93,665.3 756.01,667.54 756.1,670.46 756.18,674.18 756.27,678.82 756.35,688.41 756.44,703.36 756.53,718.32 756.61,729.27 756.7,738.75 756.78,747.47 756.87,755.69 756.95,763.7 757.04,771.57 757.12,779.01 757.21,786.38 757.36,785.28 757.51,784.2 757.67,783.15 757.82,782.12 757.97,781.12 758.12,780.15 758.27,779.2 758.43,778.27 758.58,777.36 758.73,776.47 758.88,775.61 759.03,774.77 759.19,773.95 759.34,773.14 759.49,772.36 759.64,771.6 759.8,770.85 759.95,770.12 760.1,769.41 760.25,768.72 760.4,768.04 760.56,767.38 760.61,759.04 760.66,751.18 760.72,743.08 760.77,734.02 760.83,723.29 760.88,707.51 760.94,689.19 760.99,676.08 761.05,667.61 761.1,659.83 761.19,660.7 761.27,661.5 761.36,662.42 761.44,663.63 761.53,665.3 761.61,667.54 761.7,670.46 761.78,674.18 761.87,678.82 761.95,688.41 762.04,703.36 762.13,718.32 762.21,729.27 762.3,738.75 762.38,747.47 762.47,755.69 762.55,763.7 762.64,771.57 762.72,779.01 762.81,786.38 762.96,785.35 763.12,784.35 763.27,783.37 763.43,782.42 763.58,781.48 763.74,780.58 763.89,779.69 764.05,778.83 764.2,777.98 764.36,777.16 764.51,776.36 764.66,775.58 764.82,774.82 764.97,774.07 765.13,773.35 765.28,772.64 765.44,771.95 765.59,771.27 765.75,770.62 765.9,769.98 766.06,769.35 766.11,760.86 766.16,752.85 766.22,744.6 766.27,735.37 766.33,724.45 766.38,708.38 766.44,689.73 766.49,676.38 766.55,667.75 766.6,659.83 766.69,660.7 766.77,661.5 766.86,662.42 766.94,663.63 767.03,665.3 767.11,667.54 767.2,670.46 767.28,674.18 767.37,678.82 767.45,688.41 767.54,703.36 767.63,718.32 767.71,729.27 767.8,738.75 767.88,747.47 767.97,755.69 768.05,763.7 768.14,771.57 768.22,779.01 768.31,786.38 768.46,785.58 768.62,784.8 768.77,784.04 768.92,783.3 769.08,782.58 769.23,781.87 769.39,781.19 769.54,780.51 769.69,779.86 769.85,779.22 770,778.6 770.16,777.99 770.31,777.4 770.46,776.82 770.62,776.25 770.77,775.7 770.93,775.17 771.08,774.64 771.23,774.13 771.39,773.63 771.54,773.14 771.69,772.67 771.85,772.21 772,771.76 772.16,771.32 772.21,762.67 772.26,754.52 772.32,746.12 772.37,736.73 772.43,725.61 772.48,709.25 772.54,690.26 772.59,676.67 772.65,667.9 772.7,659.83 772.79,660.7 772.87,661.5 772.96,662.42 773.04,663.63 773.13,665.3 773.21,667.54 773.3,670.46 773.38,674.18 773.47,678.82 773.55,688.41 773.64,703.36 773.73,718.32 773.81,729.27 773.9,738.75 773.98,747.47 774.07,755.69 774.15,763.7 774.24,771.57 774.32,779.01 774.41,786.38 774.56,785.76 774.72,785.15 774.87,784.55 775.02,783.97 775.18,783.41 775.33,782.85 775.48,782.31 775.64,781.79 775.79,781.28 775.94,780.78 776.1,780.29 776.25,779.81 776.4,779.35 776.56,778.89 776.71,778.45 776.86,778.02 777.02,777.6 777.17,777.19 777.32,776.79 777.48,776.4 777.63,776.01 777.78,775.64 777.94,775.28 778.09,774.93 778.24,774.58 778.4,774.24 778.55,773.91 778.7,773.59 778.86,773.28 778.91,764.48 778.96,756.19 779.02,747.64 779.07,738.09 779.13,726.77 779.18,710.13 779.24,690.8 779.29,676.97 779.35,668.04 779.4,659.83 779.49,660.7 779.57,661.5 779.66,662.42 779.74,663.63 779.83,665.3 779.91,667.54 780,670.46 780.08,674.18 780.17,678.82 780.25,688.41 780.34,703.36 780.43,718.32 780.51,729.27 780.6,738.75 780.68,747.47 780.77,755.69 780.85,763.7 780.94,771.57 781.02,779.01 781.11,786.38 781.56,783.73 782,781.31 782.45,779.11 782.9,777.16 783.34,775.49 783.79,774.12 784.24,773.12 784.68,772.62 785.05,773.77 785.42,774.92 785.79,776.06 786.16,777.21 786.55,776.69 786.94,776.16 787.32,775.64 787.71,775.11 788.02,774.9 788.33,774.74 788.64,774.7 788.95,774.77 789.26,774.95 789.57,775.17 789.88,775.38 790.2,775.51 790.2,775.11 790.74,774.22 791.28,773.42 791.83,772.78 792.37,772.37 792.91,772.23 793.3,773.67 793.69,775.11 794.08,776.55 794.86,776.55 794.91,767.56 794.96,759.09 795.02,750.35 795.07,740.59 795.13,729.02 795.18,712.01 795.24,692.27 795.29,678.13 795.35,669 795.4,660.62 795.49,661.48 795.57,662.28 795.66,663.19 795.74,664.4 795.83,666.06 795.91,668.29 796,671.2 796.08,674.91 796.17,679.52 796.25,689.08 796.34,703.97 796.43,718.87 796.51,729.77 796.6,739.2 796.68,747.89 796.77,756.08 796.85,764.05 796.94,771.9 797.02,779.3 797.11,786.64 797.26,785.11 797.42,783.62 797.57,782.17 797.73,780.75 797.88,779.37 798.03,778.02 798.19,776.7 798.34,775.41 798.5,774.16 798.65,772.94 798.81,771.75 798.96,770.58 799.11,769.45 799.27,768.34 799.42,767.26 799.58,766.21 799.73,765.18 799.89,764.18 800.04,763.2 800.19,762.25 800.35,761.32 800.5,760.41 800.66,759.52 800.71,751.85 800.76,744.62 800.82,737.17 800.87,728.84 800.93,718.97 800.98,704.47 801.04,687.62 801.09,675.56 801.15,667.77 801.2,660.62 801.29,661.48 801.37,662.28 801.46,663.19 801.54,664.4 801.63,666.06 801.71,668.29 801.8,671.2 801.88,674.91 801.97,679.52 802.05,689.08 802.14,703.97 802.23,718.87 802.31,729.77 802.4,739.2 802.48,747.89 802.57,756.08 802.65,764.05 802.74,771.9 802.82,779.3 802.91,786.64 803.06,785.64 803.21,784.66 803.36,783.71 803.51,782.78 803.67,781.87 803.82,780.98 803.97,780.12 804.12,779.27 804.27,778.45 804.42,777.64 804.58,776.86 804.73,776.09 804.88,775.34 805.03,774.61 805.18,773.9 805.33,773.21 805.48,772.53 805.64,771.87 805.79,771.22 805.94,770.59 806.09,769.97 806.24,769.37 806.39,768.79 806.54,768.22 806.7,767.66 806.85,767.11 807,766.58 807.15,766.06 807.3,765.56 807.45,765.06 807.6,764.58 807.76,764.11 807.81,756.08 807.86,748.52 807.92,740.72 807.97,732 808.03,721.68 808.08,706.5 808.14,688.87 808.19,676.25 808.25,668.1 808.3,660.62 808.39,661.48 808.47,662.28 808.56,663.19 808.64,664.4 808.73,666.06 808.81,668.29 808.9,671.2 808.98,674.91 809.07,679.52 809.15,689.08 809.24,703.97 809.33,718.87 809.41,729.77 809.5,739.2 809.58,747.89 809.67,756.08 809.75,764.05 809.84,771.9 809.92,779.3 810.01,786.64 810.46,783.95 810.9,781.47 811.35,779.23 811.8,777.25 812.24,775.54 812.69,774.15 813.14,773.13 813.58,772.62 813.95,773.77 814.32,774.92 814.69,776.06 815.06,777.21 815.45,776.69 815.84,776.16 816.22,775.64 816.61,775.11 816.92,774.9 817.22,774.75 817.53,774.7 817.84,774.76 818.14,774.93 818.45,775.15 818.75,775.36 819.06,775.5 819.37,775.53 819.67,775.44 819.98,775.26 820.28,775.04 820.59,774.84 820.9,774.72 820.9,775.11 821.44,774.22 821.98,773.42 822.53,772.78 823.07,772.37 823.61,772.23 824,773.67 824.39,775.11 824.78,776.55 825.56,776.55 825.61,767.56 825.66,759.09 825.72,750.35 825.77,740.59 825.83,729.02 825.88,712.01 825.94,692.27 825.99,678.13 826.05,669 826.1,660.62 826.19,661.48 826.27,662.28 826.36,663.19 826.44,664.4 826.53,666.06 826.61,668.29 826.7,671.2 826.78,674.91 826.87,679.52 826.95,689.08 827.04,703.97 827.13,718.87 827.21,729.77 827.3,739.2 827.38,747.89 827.47,756.08 827.55,764.05 827.64,771.9 827.72,779.3 827.81,786.64 827.96,785.21 828.11,783.82 828.26,782.46 828.41,781.13 828.56,779.84 828.71,778.57 828.86,777.34 829.01,776.13 829.16,774.96 829.31,773.81 829.46,772.69 829.61,771.59 829.76,770.52 829.91,769.48 830.06,768.46 830.21,767.47 830.36,766.5 830.51,765.55 830.66,764.63 830.81,763.72 830.96,762.84 831.11,761.98 831.26,761.14 831.41,760.32 831.56,759.52 831.61,751.85 831.66,744.62 831.72,737.17 831.77,728.84 831.83,718.97 831.88,704.47 831.94,687.62 831.99,675.56 832.05,667.77 832.1,660.62 832.19,661.48 832.27,662.28 832.36,663.19 832.44,664.4 832.53,666.06 832.61,668.29 832.7,671.2 832.78,674.91 832.87,679.52 832.95,689.08 833.04,703.97 833.13,718.87 833.21,729.77 833.3,739.2 833.38,747.89 833.47,756.08 833.55,764.05 833.64,771.9 833.72,779.3 833.81,786.64 833.96,785.57 834.12,784.52 834.27,783.5 834.42,782.5 834.58,781.53 834.73,780.58 834.88,779.65 835.04,778.74 835.19,777.86 835.34,777 835.5,776.16 835.65,775.34 835.8,774.54 835.96,773.76 836.11,773 836.26,772.26 836.42,771.54 836.57,770.83 836.72,770.14 836.88,769.47 837.03,768.81 837.18,768.17 837.34,767.55 837.49,766.94 837.64,766.35 837.8,765.77 837.95,765.2 838.1,764.65 838.26,764.11 838.31,756.08 838.36,748.52 838.42,740.72 838.47,732 838.53,721.68 838.58,706.5 838.64,688.87 838.69,676.25 838.75,668.1 838.8,660.62 838.89,661.48 838.97,662.28 839.06,663.19 839.14,664.4 839.23,666.06 839.31,668.29 839.4,671.2 839.48,674.91 839.57,679.52 839.65,689.08 839.74,703.97 839.83,718.87 839.91,729.77 840,739.2 840.08,747.89 840.17,756.08 840.25,764.05 840.34,771.9 840.42,779.3 840.51,786.64 840.96,783.95 841.4,781.47 841.85,779.23 842.3,777.25 842.74,775.54 843.19,774.15 843.64,773.13 844.08,772.62 844.45,773.77 844.82,774.92 845.19,776.06 845.56,777.21 845.95,776.69 846.34,776.16 846.72,775.64 847.11,775.11 847.41,774.9 847.71,774.75 848.01,774.69 848.31,774.75 848.61,774.91 848.91,775.12 849.2,775.33 849.5,775.48 849.8,775.53 850.1,775.47 850.4,775.32 850.7,775.1 851,774.9 851.3,774.75 851.6,774.69 851.6,775.11 852.14,774.22 852.68,773.42 853.23,772.78 853.77,772.37 854.31,772.23 854.7,773.67 855.09,775.11 855.48,776.55 856.26,776.55 856.31,767.56 856.36,759.09 856.42,750.35 856.47,740.59 856.53,729.02 856.58,712.01 856.64,692.27 856.69,678.13 856.75,669 856.8,660.62 856.89,661.48 856.97,662.28 857.06,663.19 857.14,664.4 857.23,666.06 857.31,668.29 857.4,671.2 857.48,674.91 857.57,679.52 857.65,689.08 857.74,703.97 857.83,718.87 857.91,729.77 858,739.2 858.08,747.89 858.17,756.08 858.25,764.05 858.34,771.9 858.42,779.3 858.51,786.64 858.66,785.17 858.81,783.73 858.96,782.32 859.12,780.95 859.27,779.61 859.42,778.31 859.57,777.03 859.72,775.79 859.88,774.58 860.03,773.39 860.18,772.24 860.33,771.11 860.48,770.01 860.64,768.93 860.79,767.89 860.94,766.86 861.09,765.87 861.24,764.89 861.4,763.94 861.55,763.02 861.7,762.11 861.85,761.23 862,760.37 862.16,759.52 862.21,751.85 862.26,744.62 862.32,737.17 862.37,728.84 862.43,718.97 862.48,704.47 862.54,687.62 862.59,675.56 862.65,667.77 862.7,660.62 862.79,661.48 862.87,662.28 862.96,663.19 863.04,664.4 863.13,666.06 863.21,668.29 863.3,671.2 863.38,674.91 863.47,679.52 863.55,689.08 863.64,703.97 863.73,718.87 863.81,729.77 863.9,739.2 863.98,747.89 864.07,756.08 864.15,764.05 864.24,771.9 864.32,779.3 864.41,786.64 864.56,785.59 864.72,784.56 864.87,783.56 865.03,782.58 865.18,781.63 865.34,780.7 865.49,779.79 865.65,778.91 865.8,778.04 865.96,777.2 866.11,776.38 866.27,775.58 866.42,774.8 866.58,774.04 866.73,773.29 866.89,772.57 867.04,771.86 867.2,771.17 867.35,770.5 867.51,769.84 867.66,769.2 867.82,768.58 867.97,767.97 868.13,767.38 868.28,766.8 868.44,766.23 868.59,765.68 868.75,765.15 868.9,764.62 869.06,764.11 869.11,756.08 869.16,748.52 869.22,740.72 869.27,732 869.33,721.68 869.38,706.5 869.44,688.87 869.49,676.25 869.55,668.1 869.6,660.62 869.69,661.48 869.77,662.28 869.86,663.19 869.94,664.4 870.03,666.06 870.11,668.29 870.2,671.2 870.28,674.91 870.37,679.52 870.45,689.08 870.54,703.97 870.63,718.87 870.71,729.77 870.8,739.2 870.88,747.89 870.97,756.08 871.05,764.05 871.14,771.9 871.22,779.3 871.31,786.64 871.76,783.95 872.2,781.47 872.65,779.23 873.1,777.25 873.54,775.54 873.99,774.15 874.44,773.13 874.88,772.62 875.25,773.77 875.62,774.92 875.99,776.06 876.36,777.21 876.75,776.69 877.14,776.16 877.52,775.64 877.91,775.11 878.21,774.9 878.51,774.75 878.81,774.69 879.11,774.75 879.41,774.91 879.7,775.12 880,775.33 880.3,775.48 880.6,775.53 880.9,775.47 881.2,775.32 881.5,775.11 881.8,774.9 882.1,774.75 882.1,775.11 882.64,774.22 883.18,773.42 883.73,772.78 884.27,772.37 884.81,772.23 885.2,773.67 885.59,775.11 885.98,776.55 886.76,776.55 886.81,767.56 886.86,759.09 886.92,750.35 886.97,740.59 887.03,729.02 887.08,712.01 887.14,692.27 887.19,678.13 887.25,669 887.3,660.62 887.39,661.48 887.47,662.28 887.56,663.19 887.64,664.4 887.73,666.06 887.81,668.29 887.9,671.2 887.98,674.91 888.07,679.52 888.15,689.08 888.24,703.97 888.33,718.87 888.41,729.77 888.5,739.2 888.58,747.89 888.67,756.08 888.75,764.05 888.84,771.9 888.92,779.3 889.01,786.64 889.16,785.17 889.31,783.73 889.46,782.32 889.62,780.95 889.77,779.61 889.92,778.31 890.07,777.03 890.22,775.79 890.38,774.58 890.53,773.39 890.68,772.24 890.83,771.11 890.98,770.01 891.14,768.93 891.29,767.89 891.44,766.86 891.59,765.87 891.74,764.89 891.9,763.94 892.05,763.02 892.2,762.11 892.35,761.23 892.5,760.37 892.66,759.52 892.71,751.85 892.76,744.62 892.82,737.17 892.87,728.84 892.93,718.97 892.98,704.47 893.04,687.62 893.09,675.56 893.15,667.77 893.2,660.62 893.29,661.48 893.37,662.28 893.46,663.19 893.54,664.4 893.63,666.06 893.71,668.29 893.8,671.2 893.88,674.91 893.97,679.52 894.05,689.08 894.14,703.97 894.23,718.87 894.31,729.77 894.4,739.2 894.48,747.89 894.57,756.08 894.65,764.05 894.74,771.9 894.82,779.3 894.91,786.64 895.06,785.64 895.21,784.66 895.36,783.71 895.51,782.78 895.67,781.87 895.82,780.98 895.97,780.12 896.12,779.27 896.27,778.45 896.42,777.64 896.58,776.86 896.73,776.09 896.88,775.34 897.03,774.61 897.18,773.9 897.33,773.21 897.48,772.53 897.64,771.87 897.79,771.22 897.94,770.59 898.09,769.97 898.24,769.37 898.39,768.79 898.54,768.22 898.7,767.66 898.85,767.11 899,766.58 899.15,766.06 899.3,765.56 899.45,765.06 899.6,764.58 899.76,764.11 899.81,756.08 899.86,748.52 899.92,740.72 899.97,732 900.03,721.68 900.08,706.5 900.14,688.87 900.19,676.25 900.25,668.1 900.3,660.62 900.39,661.48 900.47,662.28 900.56,663.19 900.64,664.4 900.73,666.06 900.81,668.29 900.9,671.2 900.98,674.91 901.07,679.52 901.15,689.08 901.24,703.97 901.33,718.87 901.41,729.77 901.5,739.2 901.58,747.89 901.67,756.08 901.75,764.05 901.84,771.9 901.92,779.3 902.01,786.64 902.46,783.95 902.9,781.47 903.35,779.23 903.8,777.25 904.24,775.54 904.69,774.15 905.14,773.13 905.58,772.62 905.95,773.77 906.32,774.92 906.69,776.06 907.06,777.21 907.45,776.69 907.84,776.16 908.22,775.64 908.61,775.11 908.91,774.9 909.21,774.75 909.51,774.69 909.81,774.75 910.11,774.91 910.4,775.12 910.7,775.33 911,775.48 911.3,775.53 911.6,775.47 911.9,775.32 912.2,775.11 912.5,774.9 912.5,775.11 913.04,774.22 913.58,773.42 914.13,772.78 914.67,772.37 915.21,772.23 915.6,773.67 915.99,775.11 916.38,776.55 917.16,776.55 917.21,767.56 917.26,759.09 917.32,750.35 917.37,740.59 917.43,729.02 917.48,712.01 917.54,692.27 917.59,678.13 917.65,669 917.7,660.62 917.79,661.48 917.87,662.28 917.96,663.19 918.04,664.4 918.13,666.06 918.21,668.29 918.3,671.2 918.38,674.91 918.47,679.52 918.55,689.08 918.64,703.97 918.73,718.87 918.81,729.77 918.9,739.2 918.98,747.89 919.07,756.08 919.15,764.05 919.24,771.9 919.32,779.3 919.41,786.64 919.56,785.25 919.71,783.89 919.86,782.57 920.02,781.27 920.17,780.01 920.32,778.78 920.47,777.58 920.62,776.4 920.78,775.26 920.93,774.14 921.08,773.05 921.23,771.99 921.38,770.95 921.53,769.94 921.69,768.95 921.84,767.98 921.99,767.04 922.14,766.12 922.29,765.22 922.45,764.35 922.6,763.5 922.75,762.66 922.9,761.85 923.05,761.06 923.2,760.28 923.36,759.52 923.41,751.85 923.46,744.62 923.52,737.17 923.57,728.84 923.63,718.97 923.68,704.47 923.74,687.62 923.79,675.56 923.85,667.77 923.9,660.62 923.99,661.48 924.07,662.28 924.16,663.19 924.24,664.4 924.33,666.06 924.41,668.29 924.5,671.2 924.58,674.91 924.67,679.52 924.75,689.08 924.84,703.97 924.93,718.87 925.01,729.77 925.1,739.2 925.18,747.89 925.27,756.08 925.35,764.05 925.44,771.9 925.52,779.3 925.61,786.64 925.76,785.59 925.92,784.56 926.07,783.56 926.23,782.58 926.38,781.63 926.54,780.7 926.69,779.79 926.85,778.91 927,778.04 927.16,777.2 927.31,776.38 927.47,775.58 927.62,774.8 927.78,774.04 927.93,773.29 928.09,772.57 928.24,771.86 928.4,771.17 928.55,770.5 928.71,769.84 928.86,769.2 929.02,768.58 929.17,767.97 929.33,767.38 929.48,766.8 929.64,766.23 929.79,765.68 929.95,765.15 930.1,764.62 930.26,764.11 930.31,756.08 930.36,748.52 930.42,740.72 930.47,732 930.53,721.68 930.58,706.5 930.64,688.87 930.69,676.25 930.75,668.1 930.8,660.62 930.89,661.48 930.97,662.28 931.06,663.19 931.14,664.4 931.23,666.06 931.31,668.29 931.4,671.2 931.48,674.91 931.57,679.52 931.65,689.08 931.74,703.97 931.83,718.87 931.91,729.77 932,739.2 932.08,747.89 932.17,756.08 932.25,764.05 932.34,771.9 932.42,779.3 932.51,786.64 932.96,783.95 933.4,781.47 933.85,779.23 934.3,777.25 934.74,775.54 935.19,774.15 935.64,773.13 936.08,772.62 936.45,773.77 936.82,774.92 937.19,776.06 937.56,777.21 937.95,776.69 938.34,776.16 938.72,775.64 939.11,775.11 939.41,774.9 939.71,774.75 940.01,774.69 940.31,774.75 940.61,774.91 940.9,775.12 941.2,775.33 941.5,775.48 941.8,775.53 942.1,775.47 942.4,775.32 942.7,775.11 943,774.9 943,775.11 943.54,774.22 944.08,773.42 944.63,772.78 945.17,772.37 945.71,772.23 946.1,773.67 946.49,775.11 946.88,776.55 947.66,776.55 947.71,767.56 947.76,759.09 947.82,750.35 947.87,740.59 947.93,729.02 947.98,712.01 948.04,692.27 948.09,678.13 948.15,669 948.2,660.62 948.29,661.48 948.37,662.28 948.46,663.19 948.54,664.4 948.63,666.06 948.71,668.29 948.8,671.2 948.88,674.91 948.97,679.52 949.05,689.08 949.14,703.97 949.23,718.87 949.31,729.77 949.4,739.2 949.48,747.89 949.57,756.08 949.65,764.05 949.74,771.9 949.82,779.3 949.91,786.64 950.06,785.25 950.21,783.89 950.36,782.57 950.52,781.27 950.67,780.01 950.82,778.78 950.97,777.58 951.12,776.4 951.28,775.26 951.43,774.14 951.58,773.05 951.73,771.99 951.88,770.95 952.03,769.94 952.19,768.95 952.34,767.98 952.49,767.04 952.64,766.12 952.79,765.22 952.95,764.35 953.1,763.5 953.25,762.66 953.4,761.85 953.55,761.06 953.7,760.28 953.86,759.52 953.91,751.85 953.96,744.62 954.02,737.17 954.07,728.84 954.13,718.97 954.18,704.47 954.24,687.62 954.29,675.56 954.35,667.77 954.4,660.62 954.49,661.48 954.57,662.28 954.66,663.19 954.74,664.4 954.83,666.06 954.91,668.29 955,671.2 955.08,674.91 955.17,679.52 955.25,689.08 955.34,703.97 955.43,718.87 955.51,729.77 955.6,739.2 955.68,747.89 955.77,756.08 955.85,764.05 955.94,771.9 956.02,779.3 956.11,786.64 956.26,785.64 956.41,784.66 956.56,783.71 956.71,782.78 956.87,781.87 957.02,780.98 957.17,780.12 957.32,779.27 957.47,778.45 957.62,777.64 957.78,776.86 957.93,776.09 958.08,775.34 958.23,774.61 958.38,773.9 958.53,773.21 958.68,772.53 958.84,771.87 958.99,771.22 959.14,770.59 959.29,769.97 959.44,769.37 959.59,768.79 959.74,768.22 959.9,767.66 960.05,767.11 960.2,766.58 960.35,766.06 960.5,765.56 960.65,765.06 960.8,764.58 960.96,764.11 961.01,756.08 961.06,748.52 961.12,740.72 961.17,732 961.23,721.68 961.28,706.5 961.34,688.87 961.39,676.25 961.45,668.1 961.5,660.62 961.59,661.48 961.67,662.28 961.76,663.19 961.84,664.4 961.93,666.06 962.01,668.29 962.1,671.2 962.18,674.91 962.27,679.52 962.35,689.08 962.44,703.97 962.53,718.87 962.61,729.77 962.7,739.2 962.78,747.89 962.87,756.08 962.95,764.05 963.04,771.9 963.12,779.3 963.21,786.64 963.66,783.95 964.1,781.47 964.55,779.23 965,777.25 965.44,775.54 965.89,774.15 966.34,773.13 966.78,772.62 967.15,773.77 967.52,774.92 967.89,776.06 968.26,777.21 968.65,776.69 969.04,776.16 969.42,775.64 969.81,775.11 970.1,774.91 970.39,774.76 970.68,774.7 970.97,774.74 971.26,774.88 971.55,775.08 971.84,775.29 972.13,775.45 972.42,775.53 972.71,775.5 973,775.37 973.3,775.18 973.3,775.11 973.84,774.22 974.38,773.42 974.93,772.78 975.47,772.37 976.01,772.23 976.4,773.67 976.79,775.11 977.18,776.55 977.96,776.55 978.01,767.56 978.06,759.09 978.12,750.35 978.17,740.59 978.23,729.02 978.28,712.01 978.34,692.27 978.39,678.13 978.45,669 978.5,660.62 978.59,661.48 978.67,662.28 978.76,663.19 978.84,664.4 978.93,666.06 979.01,668.29 979.1,671.2 979.18,674.91 979.27,679.52 979.35,689.08 979.44,703.97 979.53,718.87 979.61,729.77 979.7,739.2 979.78,747.89 979.87,756.08 979.95,764.05 980.04,771.9 980.12,779.3 980.21,786.64 980.36,785.31 980.52,784.02 980.67,782.75 980.83,781.52 980.99,780.31 981.14,779.14 981.3,778 981.45,776.88 981.61,775.79 981.76,774.73 981.92,773.69 982.07,772.68 982.23,771.7 982.38,770.74 982.54,769.8 982.69,768.89 982.85,767.99 983,767.12 983.16,766.28 983.31,765.45 983.47,764.64 983.62,763.85 983.78,763.09 983.94,762.34 984.09,761.61 984.25,760.9 984.4,760.2 984.56,759.52 984.61,751.85 984.66,744.62 984.72,737.17 984.77,728.84 984.83,718.97 984.88,704.47 984.94,687.62 984.99,675.56 985.05,667.77 985.1,660.62 985.19,661.48 985.27,662.28 985.36,663.19 985.44,664.4 985.53,666.06 985.61,668.29 985.7,671.2 985.78,674.91 985.87,679.52 985.95,689.08 986.04,703.97 986.13,718.87 986.21,729.77 986.3,739.2 986.38,747.89 986.47,756.08 986.55,764.05 986.64,771.9 986.72,779.3 986.81,786.64 986.96,785.57 987.12,784.52 987.27,783.5 987.42,782.5 987.58,781.53 987.73,780.58 987.88,779.65 988.04,778.74 988.19,777.86 988.34,777 988.5,776.16 988.65,775.34 988.8,774.54 988.96,773.76 989.11,773 989.26,772.26 989.42,771.54 989.57,770.83 989.72,770.14 989.88,769.47 990.03,768.81 990.18,768.17 990.34,767.55 990.49,766.94 990.64,766.35 990.8,765.77 990.95,765.2 991.1,764.65 991.26,764.11 991.31,756.08 991.36,748.52 991.42,740.72 991.47,732 991.53,721.68 991.58,706.5 991.64,688.87 991.69,676.25 991.75,668.1 991.8,660.62 991.89,661.48 991.97,662.28 992.06,663.19 992.14,664.4 992.23,666.06 992.31,668.29 992.4,671.2 992.48,674.91 992.57,679.52 992.65,689.08 992.74,703.97 992.83,718.87 992.91,729.77 993,739.2 993.08,747.89 993.17,756.08 993.25,764.05 993.34,771.9 993.42,779.3 993.51,786.64 993.96,783.95 994.4,781.47 994.85,779.23 995.3,777.25 995.74,775.54 996.19,774.15 996.64,773.13 997.08,772.62 997.45,773.77 997.82,774.92 998.19,776.06 998.56,777.21 998.95,776.69 999.34,776.16 999.72,775.64 1000.11,775.11 1000.42,774.9 1000.73,774.74 1001.03,774.7 1001.34,774.77 1001.65,774.93 1001.95,775.15 1002.26,775.36 1002.57,775.5 1002.87,775.53 1003.18,775.44 1003.49,775.26 1003.8,775.03 1003.8,775.11 1004.34,774.22 1004.88,773.42 1005.43,772.78 1005.97,772.37 1006.51,772.23 1006.9,773.67 1007.29,775.11 1007.68,776.55 1008.46,776.55 1008.51,767.56 1008.56,759.09 1008.62,750.35 1008.67,740.59 1008.73,729.02 1008.78,712.01 1008.84,692.27 1008.89,678.13 1008.95,669 1009,660.62 1009.09,661.48 1009.17,662.28 1009.26,663.19 1009.34,664.4 1009.43,666.06 1009.51,668.29 1009.6,671.2 1009.68,674.91 1009.77,679.52 1009.85,689.08 1009.94,703.97 1010.03,718.87 1010.11,729.77 1010.2,739.2 1010.28,747.89 1010.37,756.08 1010.45,764.05 1010.54,771.9 1010.62,779.3 1010.71,786.64 1010.86,785.31 1011.02,784.02 1011.17,782.75 1011.33,781.52 1011.49,780.31 1011.64,779.14 1011.8,778 1011.95,776.88 1012.11,775.79 1012.26,774.73 1012.42,773.69 1012.57,772.68 1012.73,771.7 1012.88,770.74 1013.04,769.8 1013.19,768.89 1013.35,767.99 1013.5,767.12 1013.66,766.28 1013.81,765.45 1013.97,764.64 1014.12,763.85 1014.28,763.09 1014.44,762.34 1014.59,761.61 1014.75,760.9 1014.9,760.2 1015.06,759.52 1015.11,751.85 1015.16,744.62 1015.22,737.17 1015.27,728.84 1015.33,718.97 1015.38,704.47 1015.44,687.62 1015.49,675.56 1015.55,667.77 1015.6,660.62 1015.69,661.48 1015.77,662.28 1015.86,663.19 1015.94,664.4 1016.03,666.06 1016.11,668.29 1016.2,671.2 1016.28,674.91 1016.37,679.52 1016.45,689.08 1016.54,703.97 1016.63,718.87 1016.71,729.77 1016.8,739.2 1016.88,747.89 1016.97,756.08 1017.05,764.05 1017.14,771.9 1017.22,779.3 1017.31,786.64 1017.46,785.59 1017.62,784.56 1017.77,783.56 1017.93,782.58 1018.08,781.63 1018.24,780.7 1018.39,779.79 1018.55,778.91 1018.7,778.04 1018.86,777.2 1019.01,776.38 1019.17,775.58 1019.32,774.8 1019.48,774.04 1019.63,773.29 1019.79,772.57 1019.94,771.86 1020.1,771.17 1020.25,770.5 1020.41,769.84 1020.56,769.2 1020.72,768.58 1020.87,767.97 1021.03,767.38 1021.18,766.8 1021.34,766.23 1021.49,765.68 1021.65,765.15 1021.8,764.62 1021.96,764.11 1022.01,756.08 1022.06,748.52 1022.12,740.72 1022.17,732 1022.23,721.68 1022.28,706.5 1022.34,688.87 1022.39,676.25 1022.45,668.1 1022.5,660.62 1022.59,661.48 1022.67,662.28 1022.76,663.19 1022.84,664.4 1022.93,666.06 1023.01,668.29 1023.1,671.2 1023.18,674.91 1023.27,679.52 1023.35,689.08 1023.44,703.97 1023.53,718.87 1023.61,729.77 1023.7,739.2 1023.78,747.89 1023.87,756.08 1023.95,764.05 1024.04,771.9 1024.12,779.3 1024.21,786.64 1024.66,783.95 1025.1,781.47 1025.55,779.23 1026,777.25 1026.44,775.54 1026.89,774.15 1027.34,773.13 1027.78,772.62 1028.15,773.77 1028.52,774.92 1028.89,776.06 1029.26,777.21 1029.65,776.69 1030.04,776.16 1030.42,775.64 1030.81,775.11 1031.12,774.9 1031.43,774.74 1031.73,774.7 1032.04,774.77 1032.35,774.93 1032.65,775.15 1032.96,775.36 1033.27,775.5 1033.57,775.53 1033.88,775.44 1034.19,775.26 1034.5,775.03 1034.5,775.11 1035.04,774.22 1035.58,773.42 1036.13,772.78 1036.67,772.37 1037.21,772.23 1037.6,773.67 1037.99,775.11 1038.38,776.55 1039.16,776.55 1039.21,767.56 1039.26,759.09 1039.32,750.35 1039.37,740.59 1039.43,729.02 1039.48,712.01 1039.54,692.27 1039.59,678.13 1039.65,669 1039.7,660.62 1039.79,661.48 1039.87,662.28 1039.96,663.19 1040.04,664.4 1040.13,666.06 1040.21,668.29 1040.3,671.2 1040.38,674.91 1040.47,679.52 1040.55,689.08 1040.64,703.97 1040.73,718.87 1040.81,729.77 1040.9,739.2 1040.98,747.89 1041.07,756.08 1041.15,764.05 1041.24,771.9 1041.32,779.3 1041.41,786.64 1041.56,785.32 1041.71,784.03 1041.86,782.77 1042.02,781.55 1042.17,780.35 1042.32,779.18 1042.47,778.04 1042.62,776.93 1042.77,775.84 1042.93,774.78 1043.08,773.75 1043.23,772.74 1043.38,771.75 1043.53,770.79 1043.68,769.85 1043.84,768.94 1043.99,768.04 1044.14,767.17 1044.29,766.32 1044.44,765.49 1044.59,764.68 1044.75,763.89 1044.9,763.11 1045.05,762.36 1045.2,761.63 1045.35,760.91 1045.5,760.21 1045.66,759.52 1045.71,751.85 1045.76,744.62 1045.82,737.17 1045.87,728.84 1045.93,718.97 1045.98,704.47 1046.04,687.62 1046.09,675.56 1046.15,667.77 1046.2,660.62 1046.29,661.48 1046.37,662.28 1046.46,663.19 1046.54,664.4 1046.63,666.06 1046.71,668.29 1046.8,671.2 1046.88,674.91 1046.97,679.52 1047.05,689.08 1047.14,703.97 1047.23,718.87 1047.31,729.77 1047.4,739.2 1047.48,747.89 1047.57,756.08 1047.65,764.05 1047.74,771.9 1047.82,779.3 1047.91,786.64 1048.06,785.54 1048.22,784.46 1048.37,783.41 1048.53,782.38 1048.69,781.38 1048.84,780.41 1049,779.46 1049.15,778.53 1049.31,777.63 1049.46,776.74 1049.62,775.88 1049.77,775.04 1049.93,774.22 1050.08,773.43 1050.24,772.65 1050.39,771.89 1050.55,771.15 1050.7,770.42 1050.86,769.72 1051.01,769.03 1051.17,768.36 1051.32,767.71 1051.48,767.07 1051.64,766.45 1051.79,765.84 1051.95,765.25 1052.1,764.67 1052.26,764.11 1052.31,756.08 1052.36,748.52 1052.42,740.72 1052.47,732 1052.53,721.68 1052.58,706.5 1052.64,688.87 1052.69,676.25 1052.75,668.1 1052.8,660.62 1052.89,661.48 1052.97,662.28 1053.06,663.19 1053.14,664.4 1053.23,666.06 1053.31,668.29 1053.4,671.2 1053.48,674.91 1053.57,679.52 1053.65,689.08 1053.74,703.97 1053.83,718.87 1053.91,729.77 1054,739.2 1054.08,747.89 1054.17,756.08 1054.25,764.05 1054.34,771.9 1054.42,779.3 1054.51,786.64 1054.96,783.95 1055.4,781.47 1055.85,779.23 1056.3,777.25 1056.74,775.54 1057.19,774.15 1057.64,773.13 1058.08,772.62 1058.45,773.77 1058.82,774.92 1059.19,776.06 1059.56,777.21 1059.95,776.69 1060.34,776.16 1060.72,775.64 1061.11,775.11 1061.41,774.9 1061.71,774.75 1062.01,774.69 1062.31,774.75 1062.61,774.91 1062.9,775.12 1063.2,775.33 1063.5,775.48 1063.8,775.53 1064.1,775.47 1064.4,775.32 1064.7,775.11 1065,774.9 1065,775.11 1065.54,774.22 1066.08,773.42 1066.63,772.78 1067.17,772.37 1067.71,772.23 1068.1,773.67 1068.49,775.11 1068.88,776.55 1069.66,776.55 1069.71,767.56 1069.76,759.09 1069.82,750.35 1069.87,740.59 1069.93,729.02 1069.98,712.01 1070.04,692.27 1070.09,678.13 1070.15,669 1070.2,660.62 1070.29,661.48 1070.37,662.28 1070.46,663.19 1070.54,664.4 1070.63,666.06 1070.71,668.29 1070.8,671.2 1070.88,674.91 1070.97,679.52 1071.05,689.08 1071.14,703.97 1071.23,718.87 1071.31,729.77 1071.4,739.2 1071.48,747.89 1071.57,756.08 1071.65,764.05 1071.74,771.9 1071.82,779.3 1071.91,786.64 1072.06,785.32 1072.21,784.03 1072.36,782.77 1072.52,781.55 1072.67,780.35 1072.82,779.18 1072.97,778.04 1073.12,776.93 1073.27,775.84 1073.43,774.78 1073.58,773.75 1073.73,772.74 1073.88,771.75 1074.03,770.79 1074.18,769.85 1074.34,768.94 1074.49,768.04 1074.64,767.17 1074.79,766.32 1074.94,765.49 1075.09,764.68 1075.25,763.89 1075.4,763.11 1075.55,762.36 1075.7,761.63 1075.85,760.91 1076,760.21 1076.16,759.52 1076.21,751.85 1076.26,744.62 1076.32,737.17 1076.37,728.84 1076.43,718.97 1076.48,704.47 1076.54,687.62 1076.59,675.56 1076.65,667.77 1076.7,660.62 1076.79,661.48 1076.87,662.28 1076.96,663.19 1077.04,664.4 1077.13,666.06 1077.21,668.29 1077.3,671.2 1077.38,674.91 1077.47,679.52 1077.55,689.08 1077.64,703.97 1077.73,718.87 1077.81,729.77 1077.9,739.2 1077.98,747.89 1078.07,756.08 1078.15,764.05 1078.24,771.9 1078.32,779.3 1078.41,786.64 1078.56,785.6 1078.71,784.57 1078.86,783.58 1079.02,782.61 1079.17,781.66 1079.32,780.73 1079.47,779.83 1079.62,778.94 1079.77,778.08 1079.92,777.24 1080.08,776.42 1080.23,775.62 1080.38,774.84 1080.53,774.08 1080.68,773.34 1080.83,772.61 1080.99,771.9 1081.14,771.21 1081.29,770.54 1081.44,769.88 1081.59,769.24 1081.74,768.61 1081.9,768 1082.05,767.4 1082.2,766.82 1082.35,766.25 1082.5,765.7 1082.65,765.15 1082.8,764.63 1082.96,764.11 1083.01,756.08 1083.06,748.52 1083.12,740.72 1083.17,732 1083.23,721.68 1083.28,706.5 1083.34,688.87 1083.39,676.25 1083.45,668.1 1083.5,660.62 1083.59,661.48 1083.67,662.28 1083.76,663.19 1083.84,664.4 1083.93,666.06 1084.01,668.29 1084.1,671.2 1084.18,674.91 1084.27,679.52 1084.35,689.08 1084.44,703.97 1084.53,718.87 1084.61,729.77 1084.7,739.2 1084.78,747.89 1084.87,756.08 1084.95,764.05 1085.04,771.9 1085.12,779.3 1085.21,786.64 1085.66,783.95 1086.1,781.47 1086.55,779.23 1087,777.25 1087.44,775.54 1087.89,774.15 1088.34,773.13 1088.78,772.62 1089.15,773.77 1089.52,774.92 1089.89,776.06 1090.26,777.21 1090.65,776.69 1091.04,776.16 1091.42,775.64 1091.81,775.11 1092.11,774.9 1092.41,774.75 1092.71,774.69 1093.01,774.75 1093.31,774.91 1093.6,775.12 1093.9,775.33 1094.2,775.48 1094.5,775.53 1094.8,775.47 1095.1,775.32 1095.4,775.11 1095.7,774.9 1095.7,775.11 1096.24,774.22 1096.78,773.42 1097.33,772.78 1097.87,772.37 1098.41,772.23 1098.8,773.67 1099.19,775.11 1099.58,776.55 1100.36,776.55 1100.41,767.56 1100.46,759.09 1100.52,750.35 1100.57,740.59 1100.63,729.02 1100.68,712.01 1100.74,692.27 1100.79,678.13 1100.85,669 1100.9,660.62 1100.99,661.48 1101.07,662.28 1101.16,663.19 1101.24,664.4 1101.33,666.06 1101.41,668.29 1101.5,671.2 1101.58,674.91 1101.67,679.52 1101.75,689.08 1101.84,703.97 1101.93,718.87 1102.01,729.77 1102.1,739.2 1102.18,747.89 1102.27,756.08 1102.35,764.05 1102.44,771.9 1102.52,779.3 1102.61,786.64 1102.76,785.32 1102.91,784.03 1103.06,782.77 1103.22,781.55 1103.37,780.35 1103.52,779.18 1103.67,778.04 1103.82,776.93 1103.97,775.84 1104.13,774.78 1104.28,773.75 1104.43,772.74 1104.58,771.75 1104.73,770.79 1104.88,769.85 1105.04,768.94 1105.19,768.04 1105.34,767.17 1105.49,766.32 1105.64,765.49 1105.79,764.68 1105.95,763.89 1106.1,763.11 1106.25,762.36 1106.4,761.63 1106.55,760.91 1106.7,760.21 1106.86,759.52 1106.91,751.85 1106.96,744.62 1107.02,737.17 1107.07,728.84 1107.13,718.97 1107.18,704.47 1107.24,687.62 1107.29,675.56 1107.35,667.77 1107.4,660.62 1107.49,661.48 1107.57,662.28 1107.66,663.19 1107.74,664.4 1107.83,666.06 1107.91,668.29 1108,671.2 1108.08,674.91 1108.17,679.52 1108.25,689.08 1108.34,703.97 1108.43,718.87 1108.51,729.77 1108.6,739.2 1108.68,747.89 1108.77,756.08 1108.85,764.05 1108.94,771.9 1109.02,779.3 1109.11,786.64 1109.26,785.64 1109.41,784.66 1109.56,783.71 1109.71,782.78 1109.87,781.87 1110.02,780.98 1110.17,780.12 1110.32,779.27 1110.47,778.45 1110.62,777.64 1110.78,776.86 1110.93,776.09 1111.08,775.34 1111.23,774.61 1111.38,773.9 1111.53,773.21 1111.68,772.53 1111.84,771.87 1111.99,771.22 1112.14,770.59 1112.29,769.97 1112.44,769.37 1112.59,768.79 1112.74,768.22 1112.9,767.66 1113.05,767.11 1113.2,766.58 1113.35,766.06 1113.5,765.56 1113.65,765.06 1113.8,764.58 1113.96,764.11 1114.01,756.08 1114.06,748.52 1114.12,740.72 1114.17,732 1114.23,721.68 1114.28,706.5 1114.34,688.87 1114.39,676.25 1114.45,668.1 1114.5,660.62 1114.59,661.48 1114.67,662.28 1114.76,663.19 1114.84,664.4 1114.93,666.06 1115.01,668.29 1115.1,671.2 1115.18,674.91 1115.27,679.52 1115.35,689.08 1115.44,703.97 1115.53,718.87 1115.61,729.77 1115.7,739.2 1115.78,747.89 1115.87,756.08 1115.95,764.05 1116.04,771.9 1116.12,779.3 1116.21,786.64 1116.66,783.95 1117.1,781.47 1117.55,779.23 1118,777.25 1118.44,775.54 1118.89,774.15 1119.34,773.13 1119.78,772.62 1120.15,773.77 1120.52,774.92 1120.89,776.06 1121.26,777.21 1121.65,776.69 1122.04,776.16 1122.42,775.64 1122.81,775.11"/>
<polyline clip-path="url(#cvf)" fill="none" stroke="#0000ff" stroke-width="2.65" stroke-linejoin="round" stroke-linecap="butt" points="1305,822.67 1393.32,822.67 1393.32,849.26 1397.73,849.26 1397.73,822.14 1399.94,822.67 1437.1,822.67 1437.9,773.54 1438.43,775.81 1438.95,777.83 1439.47,779.6 1440,781.11 1440.53,782.34 1441.05,783.28 1441.57,783.9 1442.1,784.15 1442.32,824.11 1442.74,823.7 1443.16,823.41 1443.59,823.19 1444.01,823.04 1444.43,822.92 1444.85,822.84 1445.27,822.78 1445.69,822.74 1446.11,822.71 1446.54,822.68 1446.96,822.67 1614,822.67 1614,849.26 1618.9,849.26 1618.9,821.1 1620,820.44 1620.46,805.1 1620.92,790.45 1621.39,774.41 1621.85,754.91 1622.31,724.55 1622.78,692.98 1623.24,675.06 1623.7,660.62 1623.85,662.79 1624,665.58 1624.15,670.69 1624.3,679.38 1624.45,697.98 1624.6,737.09 1624.75,763.79 1624.9,785.95 1625.05,806.71 1625.2,826.07 1625.61,825.26 1626.03,824.64 1626.44,824.17 1626.86,823.8 1627.27,823.52 1627.68,823.31 1628.1,823.15 1628.51,823.02 1628.93,822.93 1629.34,822.86 1629.75,822.8 1630.17,822.76 1630.58,822.73 1631,822.7 1631.41,822.68 1631.82,822.67 1735.54,822.67"/>
<polyline clip-path="url(#cia)" fill="none" stroke="#ff0000" stroke-width="3.6" stroke-linejoin="miter" points="80.96,416.55 180.32,416.55 180.32,339.5 1416.74,339.5"/>
<polyline clip-path="url(#cib)" fill="none" stroke="#ff0000" stroke-width="3.6" stroke-linejoin="miter" points="687.46,416.55 786.82,416.55 786.82,342.14 2023.24,342.14"/>
<polyline clip-path="url(#cic)" fill="none" stroke="#ff0000" stroke-width="3.6" stroke-linejoin="miter" points="1301.12,416.55 1336.07,416.55 1336.07,339.71 1771.11,339.71"/>
<polyline clip-path="url(#cid)" fill="none" stroke="#ff0000" stroke-width="3.6" stroke-linejoin="miter" points="88.12,971.05 123.07,971.05 123.07,894.09 558.11,894.09"/>
<polyline clip-path="url(#cie)" fill="none" stroke="#ff0000" stroke-width="3.6" stroke-linejoin="miter" points="694.62,971.05 729.57,971.05 729.57,894.09 1164.61,894.09"/>
<polyline clip-path="url(#cif)" fill="none" stroke="#ff0000" stroke-width="3.6" stroke-linejoin="miter" points="1293.96,929 1393.32,929 1393.32,970.08 1397.73,970.08 1397.73,929 1437.47,929 1437.47,887.92 1441.56,887.92 1441.56,929 1614.11,929 1614.11,970.08 1618.9,970.08 1618.9,929 1620.44,929 1620.44,887.92 1625.52,887.92 1625.52,929 1746.58,929"/>
<line x1="92" y1="169.5" x2="511.5" y2="169.5" stroke="#787878" stroke-opacity="0.56" stroke-width="1"/>
<line x1="698.5" y1="169.5" x2="1118" y2="169.5" stroke="#787878" stroke-opacity="0.56" stroke-width="1"/>
<line x1="1305" y1="169.5" x2="1724.5" y2="169.5" stroke="#787878" stroke-opacity="0.56" stroke-width="1"/>
<line x1="92" y1="723.5" x2="511.5" y2="723.5" stroke="#787878" stroke-opacity="0.56" stroke-width="1"/>
<line x1="698.5" y1="723.5" x2="1118" y2="723.5" stroke="#787878" stroke-opacity="0.56" stroke-width="1"/>
<line x1="1305" y1="723.5" x2="1724.5" y2="723.5" stroke="#787878" stroke-opacity="0.56" stroke-width="1"/>
<path d="M92 103.5h5M511.5 103.5h-5M92 169h5M511.5 169h-5M92 234.5h5M511.5 234.5h-5M202.39 39.5v5M202.39 299v-5M202.39 322v3M202.39 427v-3M312.79 39.5v5M312.79 299v-5M312.79 322v3M312.79 427v-3M423.18 39.5v5M423.18 299v-5M423.18 322v3M423.18 427v-3M92 335.45h3M511.5 335.45h-3M92 376h3M511.5 376h-3M92 416.55h3M511.5 416.55h-3" stroke="#000" stroke-width="1" fill="none"/>
<rect x="92" y="39.5" width="419.5" height="259.5" fill="none" stroke="#000" stroke-width="1"/>
<rect x="92" y="322" width="419.5" height="105" fill="none" stroke="#000" stroke-width="1"/>
<path d="M698.5 103.5h5M1118 103.5h-5M698.5 169h5M1118 169h-5M698.5 234.5h5M1118 234.5h-5M808.89 39.5v5M808.89 299v-5M808.89 322v3M808.89 427v-3M919.29 39.5v5M919.29 299v-5M919.29 322v3M919.29 427v-3M1029.68 39.5v5M1029.68 299v-5M1029.68 322v3M1029.68 427v-3M698.5 335.45h3M1118 335.45h-3M698.5 376h3M1118 376h-3M698.5 416.55h3M1118 416.55h-3" stroke="#000" stroke-width="1" fill="none"/>
<rect x="698.5" y="39.5" width="419.5" height="259.5" fill="none" stroke="#000" stroke-width="1"/>
<rect x="698.5" y="322" width="419.5" height="105" fill="none" stroke="#000" stroke-width="1"/>
<path d="M1305 103.5h5M1724.5 103.5h-5M1305 169h5M1724.5 169h-5M1305 234.5h5M1724.5 234.5h-5M1382.69 39.5v5M1382.69 299v-5M1382.69 322v3M1382.69 427v-3M1460.37 39.5v5M1460.37 299v-5M1460.37 322v3M1460.37 427v-3M1538.06 39.5v5M1538.06 299v-5M1538.06 322v3M1538.06 427v-3M1615.74 39.5v5M1615.74 299v-5M1615.74 322v3M1615.74 427v-3M1693.43 39.5v5M1693.43 299v-5M1693.43 322v3M1693.43 427v-3M1305 335.45h3M1724.5 335.45h-3M1305 376h3M1724.5 376h-3M1305 416.55h3M1724.5 416.55h-3" stroke="#000" stroke-width="1" fill="none"/>
<rect x="1305" y="39.5" width="419.5" height="259.5" fill="none" stroke="#000" stroke-width="1"/>
<rect x="1305" y="322" width="419.5" height="105" fill="none" stroke="#000" stroke-width="1"/>
<path d="M92 658h5M511.5 658h-5M92 723.5h5M511.5 723.5h-5M92 789h5M511.5 789h-5M169.69 594v5M169.69 853.5v-5M169.69 876.5v3M169.69 981.5v-3M247.37 594v5M247.37 853.5v-5M247.37 876.5v3M247.37 981.5v-3M325.06 594v5M325.06 853.5v-5M325.06 876.5v3M325.06 981.5v-3M402.74 594v5M402.74 853.5v-5M402.74 876.5v3M402.74 981.5v-3M480.43 594v5M480.43 853.5v-5M480.43 876.5v3M480.43 981.5v-3M92 889.95h3M511.5 889.95h-3M92 930.5h3M511.5 930.5h-3M92 971.05h3M511.5 971.05h-3" stroke="#000" stroke-width="1" fill="none"/>
<rect x="92" y="594" width="419.5" height="259.5" fill="none" stroke="#000" stroke-width="1"/>
<rect x="92" y="876.5" width="419.5" height="105" fill="none" stroke="#000" stroke-width="1"/>
<path d="M698.5 658h5M1118 658h-5M698.5 723.5h5M1118 723.5h-5M698.5 789h5M1118 789h-5M776.19 594v5M776.19 853.5v-5M776.19 876.5v3M776.19 981.5v-3M853.87 594v5M853.87 853.5v-5M853.87 876.5v3M853.87 981.5v-3M931.56 594v5M931.56 853.5v-5M931.56 876.5v3M931.56 981.5v-3M1009.24 594v5M1009.24 853.5v-5M1009.24 876.5v3M1009.24 981.5v-3M1086.93 594v5M1086.93 853.5v-5M1086.93 876.5v3M1086.93 981.5v-3M698.5 889.95h3M1118 889.95h-3M698.5 930.5h3M1118 930.5h-3M698.5 971.05h3M1118 971.05h-3" stroke="#000" stroke-width="1" fill="none"/>
<rect x="698.5" y="594" width="419.5" height="259.5" fill="none" stroke="#000" stroke-width="1"/>
<rect x="698.5" y="876.5" width="419.5" height="105" fill="none" stroke="#000" stroke-width="1"/>
<path d="M1305 658h5M1724.5 658h-5M1305 723.5h5M1724.5 723.5h-5M1305 789h5M1724.5 789h-5M1415.39 594v5M1415.39 853.5v-5M1415.39 876.5v3M1415.39 981.5v-3M1525.79 594v5M1525.79 853.5v-5M1525.79 876.5v3M1525.79 981.5v-3M1636.18 594v5M1636.18 853.5v-5M1636.18 876.5v3M1636.18 981.5v-3M1305 884.35h3M1724.5 884.35h-3M1305 929h3M1724.5 929h-3M1305 973.65h3M1724.5 973.65h-3" stroke="#000" stroke-width="1" fill="none"/>
<rect x="1305" y="594" width="419.5" height="259.5" fill="none" stroke="#000" stroke-width="1"/>
<rect x="1305" y="876.5" width="419.5" height="105" fill="none" stroke="#000" stroke-width="1"/>
<g style="font-family:'Liberation Sans',sans-serif;font-size:29.8px;stroke:#000;stroke-width:0.3px" fill="#000"><text x="87.8" y="115" text-anchor="end">50</text><text x="87.8" y="180.5" text-anchor="end">0</text><text x="87.8" y="246" text-anchor="end">−50</text><text x="87.8" y="346.95" text-anchor="end">20</text><text x="87.8" y="387.5" text-anchor="end">10</text><text x="87.8" y="428.05" text-anchor="end">0</text><text x="92" y="462.1" text-anchor="middle">0</text><text x="202.39" y="462.1" text-anchor="middle">0.5</text><text x="312.79" y="462.1" text-anchor="middle">1</text><text x="423.18" y="462.1" text-anchor="middle">1.5</text><text x="301.75" y="510.7" text-anchor="middle">Time [s]</text><text transform="translate(20.95 169.25) rotate(-90) scale(0.94 1)" text-anchor="middle"><tspan font-style="italic">V</tspan><tspan font-size="21px" dy="5.5">m</tspan><tspan dy="-5.5"> [mV]</tspan></text><text transform="translate(39.5 374.5) rotate(-90) scale(0.955 1)" text-anchor="middle"><tspan font-style="italic">I</tspan> [pA]</text></g>
<g style="font-family:'Liberation Sans',sans-serif;font-size:29.8px;stroke:#000;stroke-width:0.3px" fill="#000"><text x="694.3" y="115" text-anchor="end">50</text><text x="694.3" y="180.5" text-anchor="end">0</text><text x="694.3" y="246" text-anchor="end">−50</text><text x="694.3" y="346.95" text-anchor="end">20</text><text x="694.3" y="387.5" text-anchor="end">10</text><text x="694.3" y="428.05" text-anchor="end">0</text><text x="698.5" y="462.1" text-anchor="middle">0</text><text x="808.89" y="462.1" text-anchor="middle">0.5</text><text x="919.29" y="462.1" text-anchor="middle">1</text><text x="1029.68" y="462.1" text-anchor="middle">1.5</text><text x="908.25" y="510.7" text-anchor="middle">Time [s]</text><text transform="translate(627.45 169.25) rotate(-90) scale(0.94 1)" text-anchor="middle"><tspan font-style="italic">V</tspan><tspan font-size="21px" dy="5.5">m</tspan><tspan dy="-5.5"> [mV]</tspan></text><text transform="translate(646 374.5) rotate(-90) scale(0.955 1)" text-anchor="middle"><tspan font-style="italic">I</tspan> [pA]</text></g>
<g style="font-family:'Liberation Sans',sans-serif;font-size:29.8px;stroke:#000;stroke-width:0.3px" fill="#000"><text x="1300.8" y="115" text-anchor="end">50</text><text x="1300.8" y="180.5" text-anchor="end">0</text><text x="1300.8" y="246" text-anchor="end">−50</text><text x="1300.8" y="346.95" text-anchor="end">20</text><text x="1300.8" y="387.5" text-anchor="end">10</text><text x="1300.8" y="428.05" text-anchor="end">0</text><text x="1305" y="462.1" text-anchor="middle">0</text><text x="1382.69" y="462.1" text-anchor="middle">1</text><text x="1460.37" y="462.1" text-anchor="middle">2</text><text x="1538.06" y="462.1" text-anchor="middle">3</text><text x="1615.74" y="462.1" text-anchor="middle">4</text><text x="1693.43" y="462.1" text-anchor="middle">5</text><text x="1514.75" y="510.7" text-anchor="middle">Time [s]</text><text transform="translate(1233.95 169.25) rotate(-90) scale(0.94 1)" text-anchor="middle"><tspan font-style="italic">V</tspan><tspan font-size="21px" dy="5.5">m</tspan><tspan dy="-5.5"> [mV]</tspan></text><text transform="translate(1252.5 374.5) rotate(-90) scale(0.955 1)" text-anchor="middle"><tspan font-style="italic">I</tspan> [pA]</text></g>
<g style="font-family:'Liberation Sans',sans-serif;font-size:29.8px;stroke:#000;stroke-width:0.3px" fill="#000"><text x="87.8" y="669.5" text-anchor="end">50</text><text x="87.8" y="735" text-anchor="end">0</text><text x="87.8" y="800.5" text-anchor="end">−50</text><text x="87.8" y="901.45" text-anchor="end">20</text><text x="87.8" y="942" text-anchor="end">10</text><text x="87.8" y="982.55" text-anchor="end">0</text><text x="92" y="1016.6" text-anchor="middle">0</text><text x="169.69" y="1016.6" text-anchor="middle">1</text><text x="247.37" y="1016.6" text-anchor="middle">2</text><text x="325.06" y="1016.6" text-anchor="middle">3</text><text x="402.74" y="1016.6" text-anchor="middle">4</text><text x="480.43" y="1016.6" text-anchor="middle">5</text><text x="301.75" y="1065.2" text-anchor="middle">Time [s]</text><text transform="translate(20.95 723.75) rotate(-90) scale(0.94 1)" text-anchor="middle"><tspan font-style="italic">V</tspan><tspan font-size="21px" dy="5.5">m</tspan><tspan dy="-5.5"> [mV]</tspan></text><text transform="translate(39.5 929) rotate(-90) scale(0.955 1)" text-anchor="middle"><tspan font-style="italic">I</tspan> [pA]</text></g>
<g style="font-family:'Liberation Sans',sans-serif;font-size:29.8px;stroke:#000;stroke-width:0.3px" fill="#000"><text x="694.3" y="669.5" text-anchor="end">50</text><text x="694.3" y="735" text-anchor="end">0</text><text x="694.3" y="800.5" text-anchor="end">−50</text><text x="694.3" y="901.45" text-anchor="end">20</text><text x="694.3" y="942" text-anchor="end">10</text><text x="694.3" y="982.55" text-anchor="end">0</text><text x="698.5" y="1016.6" text-anchor="middle">0</text><text x="776.19" y="1016.6" text-anchor="middle">1</text><text x="853.87" y="1016.6" text-anchor="middle">2</text><text x="931.56" y="1016.6" text-anchor="middle">3</text><text x="1009.24" y="1016.6" text-anchor="middle">4</text><text x="1086.93" y="1016.6" text-anchor="middle">5</text><text x="908.25" y="1065.2" text-anchor="middle">Time [s]</text><text transform="translate(627.45 723.75) rotate(-90) scale(0.94 1)" text-anchor="middle"><tspan font-style="italic">V</tspan><tspan font-size="21px" dy="5.5">m</tspan><tspan dy="-5.5"> [mV]</tspan></text><text transform="translate(646 929) rotate(-90) scale(0.955 1)" text-anchor="middle"><tspan font-style="italic">I</tspan> [pA]</text></g>
<g style="font-family:'Liberation Sans',sans-serif;font-size:29.8px;stroke:#000;stroke-width:0.3px" fill="#000"><text x="1300.8" y="669.5" text-anchor="end">50</text><text x="1300.8" y="735" text-anchor="end">0</text><text x="1300.8" y="800.5" text-anchor="end">−50</text><text x="1300.8" y="895.85" text-anchor="end">20</text><text x="1300.8" y="940.5" text-anchor="end">0</text><text x="1300.8" y="985.15" text-anchor="end">−20</text><text x="1305" y="1016.6" text-anchor="middle">0</text><text x="1415.39" y="1016.6" text-anchor="middle">0.5</text><text x="1525.79" y="1016.6" text-anchor="middle">1</text><text x="1636.18" y="1016.6" text-anchor="middle">1.5</text><text x="1514.75" y="1065.2" text-anchor="middle">Time [s]</text><text transform="translate(1233.95 723.75) rotate(-90) scale(0.94 1)" text-anchor="middle"><tspan font-style="italic">V</tspan><tspan font-size="21px" dy="5.5">m</tspan><tspan dy="-5.5"> [mV]</tspan></text><text transform="translate(1234.5 929) rotate(-90) scale(0.955 1)" text-anchor="middle"><tspan font-style="italic">I</tspan> [pA]</text></g>
<g style="font-family:'Liberation Mono',monospace;font-size:31px;stroke:#000;stroke-width:0.45px" fill="#000"><text y="22.1" font-size="27.5px" font-weight="bold" style="stroke-width:0"><tspan x="41.8" text-anchor="middle">(</tspan><tspan x="49.9" y="22.7" font-size="31px" textLength="16.2" lengthAdjust="spacingAndGlyphs">a</tspan><tspan x="74.2" y="22.1" text-anchor="middle">)</tspan></text><text x="193.5" y="22.3" transform="scale(1 1)" textLength="226.2" lengthAdjust="spacing">Tonic Spiking</text><text y="22.1" font-size="27.5px" font-weight="bold" style="stroke-width:0"><tspan x="639.45" text-anchor="middle">(</tspan><tspan x="647.55" y="22.7" font-size="31px" textLength="16.2" lengthAdjust="spacingAndGlyphs">b</tspan><tspan x="671.85" y="22.1" text-anchor="middle">)</tspan></text><text x="791.4" y="22.3" transform="scale(1 1)" textLength="243.6" lengthAdjust="spacing">Phasic Spiking</text><text y="22.1" font-size="27.5px" font-weight="bold" style="stroke-width:0"><tspan x="1237.6" text-anchor="middle">(</tspan><tspan x="1245.7" y="22.7" font-size="31px" textLength="16.2" lengthAdjust="spacingAndGlyphs">c</tspan><tspan x="1270" y="22.1" text-anchor="middle">)</tspan></text><text x="1389.3" y="22.3" transform="scale(1 1)" textLength="261" lengthAdjust="spacing">Phasic Bursting</text><text y="577.1" font-size="27.5px" font-weight="bold" style="stroke-width:0"><tspan x="41.7" text-anchor="middle">(</tspan><tspan x="49.8" y="577.7" font-size="31px" textLength="16.2" lengthAdjust="spacingAndGlyphs">d</tspan><tspan x="74.1" y="577.1" text-anchor="middle">)</tspan></text><text x="226.75" y="577.3" transform="scale(1 1)" textLength="174" lengthAdjust="spacing">Mixed Mode</text><text y="577.1" font-size="27.5px" font-weight="bold" style="stroke-width:0"><tspan x="639.5" text-anchor="middle">(</tspan><tspan x="647.6" y="577.7" font-size="31px" textLength="16.2" lengthAdjust="spacingAndGlyphs">e</tspan><tspan x="671.9" y="577.1" text-anchor="middle">)</tspan></text><text x="792" y="577.3" transform="scale(1 1)" textLength="243.6" lengthAdjust="spacing">Tonic Bursting</text><text y="577.1" font-size="27.5px" font-weight="bold" style="stroke-width:0"><tspan x="1245.8" text-anchor="middle">(</tspan><tspan x="1253.9" y="577.7" font-size="31px" textLength="16.2" lengthAdjust="spacingAndGlyphs">f</tspan><tspan x="1278.2" y="577.1" text-anchor="middle">)</tspan></text><text x="1327.3" y="577.3" transform="scale(1 1)" textLength="365.4" lengthAdjust="spacing">Threshold Variability</text></g></svg>
</body></html>
